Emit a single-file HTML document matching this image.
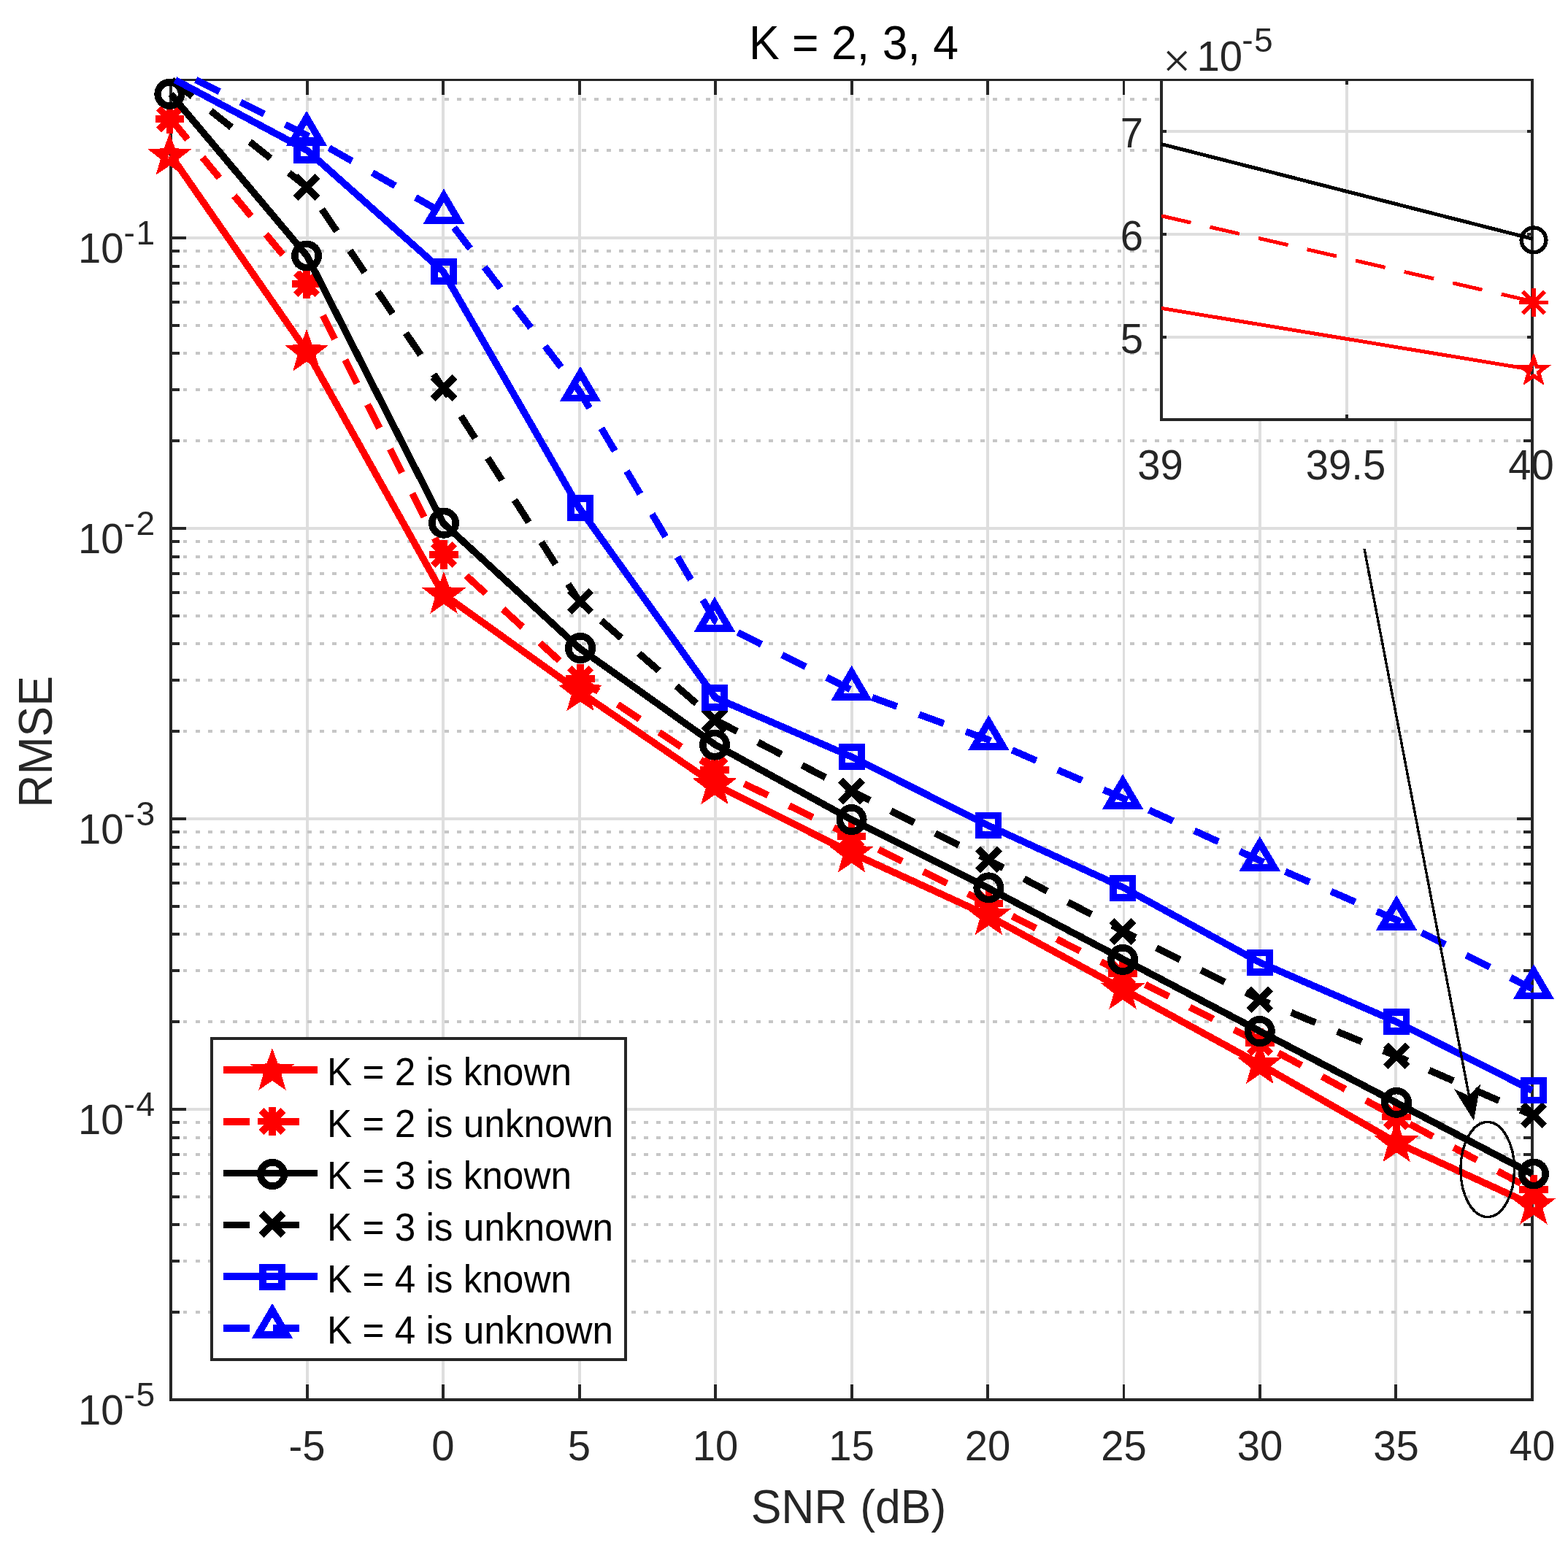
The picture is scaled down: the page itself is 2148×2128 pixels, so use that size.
<!DOCTYPE html>
<html lang="en"><head><meta charset="utf-8"><title>K = 2, 3, 4</title>
<style>html,body{margin:0;padding:0;background:#fff;}svg{display:block;}text{font-family:"Liberation Sans", Arial, Helvetica, sans-serif;}.c{shape-rendering:crispEdges;}</style>
</head><body>
<svg xmlns="http://www.w3.org/2000/svg" width="2148" height="2128" viewBox="0 0 2148 2128">
<rect x="0" y="0" width="2148" height="2128" fill="#ffffff"/>
<path class="c" d="M419 111h4v1805h-4z M605 111h4v1805h-4z M792 111h4v1805h-4z M978 111h4v1805h-4z M1165 111h4v1805h-4z M1351 111h4v1805h-4z M1538 111h3v1805h-3z M1724 111h4v1805h-4z M1910 111h4v1805h-4z M236 324h1861v4h-1861z M236 722h1861v4h-1861z M236 1120h1861v4h-1861z M236 1518h1861v4h-1861z" fill="#dedede"/>
<path class="c" d="M251 204h5v4h-5zM268 204h6v4h-6zM285 204h6v4h-6zM302 204h6v4h-6zM319 204h6v4h-6zM336 204h6v4h-6zM353 204h6v4h-6zM370 204h6v4h-6zM387 204h6v4h-6zM404 204h6v4h-6zM421 204h6v4h-6zM438 204h6v4h-6zM455 204h6v4h-6zM473 204h5v4h-5zM490 204h5v4h-5zM507 204h5v4h-5zM524 204h6v4h-6zM541 204h6v4h-6zM558 204h6v4h-6zM575 204h6v4h-6zM592 204h6v4h-6zM609 204h6v4h-6zM626 204h6v4h-6zM643 204h6v4h-6zM660 204h6v4h-6zM677 204h6v4h-6zM694 204h6v4h-6zM711 204h6v4h-6zM729 204h5v4h-5zM746 204h5v4h-5zM763 204h5v4h-5zM780 204h6v4h-6zM797 204h6v4h-6zM814 204h6v4h-6zM831 204h6v4h-6zM848 204h6v4h-6zM865 204h6v4h-6zM882 204h6v4h-6zM899 204h6v4h-6zM916 204h6v4h-6zM933 204h6v4h-6zM950 204h6v4h-6zM967 204h6v4h-6zM985 204h5v4h-5zM1002 204h5v4h-5zM1019 204h5v4h-5zM1036 204h6v4h-6zM1053 204h6v4h-6zM1070 204h6v4h-6zM1087 204h6v4h-6zM1104 204h6v4h-6zM1121 204h6v4h-6zM1138 204h6v4h-6zM1155 204h6v4h-6zM1172 204h6v4h-6zM1189 204h6v4h-6zM1206 204h6v4h-6zM1223 204h6v4h-6zM1241 204h5v4h-5zM1258 204h5v4h-5zM1275 204h5v4h-5zM1292 204h6v4h-6zM1309 204h6v4h-6zM1326 204h6v4h-6zM1343 204h6v4h-6zM1360 204h6v4h-6zM1377 204h6v4h-6zM1394 204h6v4h-6zM1411 204h6v4h-6zM1428 204h6v4h-6zM1445 204h6v4h-6zM1462 204h6v4h-6zM1479 204h6v4h-6zM1497 204h5v4h-5zM1514 204h5v4h-5zM1531 204h5v4h-5zM1548 204h6v4h-6zM1565 204h6v4h-6zM1582 204h6v4h-6zM1599 204h6v4h-6zM1616 204h6v4h-6zM1633 204h6v4h-6zM1650 204h6v4h-6zM1667 204h6v4h-6zM1684 204h6v4h-6zM1701 204h6v4h-6zM1718 204h6v4h-6zM1735 204h6v4h-6zM1753 204h5v4h-5zM1770 204h5v4h-5zM1787 204h5v4h-5zM1804 204h6v4h-6zM1821 204h6v4h-6zM1838 204h6v4h-6zM1855 204h6v4h-6zM1872 204h6v4h-6zM1889 204h6v4h-6zM1906 204h6v4h-6zM1923 204h6v4h-6zM1940 204h6v4h-6zM1957 204h6v4h-6zM1974 204h6v4h-6zM1991 204h6v4h-6zM2009 204h5v4h-5zM2026 204h5v4h-5zM2043 204h5v4h-5zM2060 204h6v4h-6zM2077 204h6v4h-6zM2094 204h3v4h-3zM251 134h5v4h-5zM268 134h6v4h-6zM285 134h6v4h-6zM302 134h6v4h-6zM319 134h6v4h-6zM336 134h6v4h-6zM353 134h6v4h-6zM370 134h6v4h-6zM387 134h6v4h-6zM404 134h6v4h-6zM421 134h6v4h-6zM438 134h6v4h-6zM455 134h6v4h-6zM473 134h5v4h-5zM490 134h5v4h-5zM507 134h5v4h-5zM524 134h6v4h-6zM541 134h6v4h-6zM558 134h6v4h-6zM575 134h6v4h-6zM592 134h6v4h-6zM609 134h6v4h-6zM626 134h6v4h-6zM643 134h6v4h-6zM660 134h6v4h-6zM677 134h6v4h-6zM694 134h6v4h-6zM711 134h6v4h-6zM729 134h5v4h-5zM746 134h5v4h-5zM763 134h5v4h-5zM780 134h6v4h-6zM797 134h6v4h-6zM814 134h6v4h-6zM831 134h6v4h-6zM848 134h6v4h-6zM865 134h6v4h-6zM882 134h6v4h-6zM899 134h6v4h-6zM916 134h6v4h-6zM933 134h6v4h-6zM950 134h6v4h-6zM967 134h6v4h-6zM985 134h5v4h-5zM1002 134h5v4h-5zM1019 134h5v4h-5zM1036 134h6v4h-6zM1053 134h6v4h-6zM1070 134h6v4h-6zM1087 134h6v4h-6zM1104 134h6v4h-6zM1121 134h6v4h-6zM1138 134h6v4h-6zM1155 134h6v4h-6zM1172 134h6v4h-6zM1189 134h6v4h-6zM1206 134h6v4h-6zM1223 134h6v4h-6zM1241 134h5v4h-5zM1258 134h5v4h-5zM1275 134h5v4h-5zM1292 134h6v4h-6zM1309 134h6v4h-6zM1326 134h6v4h-6zM1343 134h6v4h-6zM1360 134h6v4h-6zM1377 134h6v4h-6zM1394 134h6v4h-6zM1411 134h6v4h-6zM1428 134h6v4h-6zM1445 134h6v4h-6zM1462 134h6v4h-6zM1479 134h6v4h-6zM1497 134h5v4h-5zM1514 134h5v4h-5zM1531 134h5v4h-5zM1548 134h6v4h-6zM1565 134h6v4h-6zM1582 134h6v4h-6zM1599 134h6v4h-6zM1616 134h6v4h-6zM1633 134h6v4h-6zM1650 134h6v4h-6zM1667 134h6v4h-6zM1684 134h6v4h-6zM1701 134h6v4h-6zM1718 134h6v4h-6zM1735 134h6v4h-6zM1753 134h5v4h-5zM1770 134h5v4h-5zM1787 134h5v4h-5zM1804 134h6v4h-6zM1821 134h6v4h-6zM1838 134h6v4h-6zM1855 134h6v4h-6zM1872 134h6v4h-6zM1889 134h6v4h-6zM1906 134h6v4h-6zM1923 134h6v4h-6zM1940 134h6v4h-6zM1957 134h6v4h-6zM1974 134h6v4h-6zM1991 134h6v4h-6zM2009 134h5v4h-5zM2026 134h5v4h-5zM2043 134h5v4h-5zM2060 134h6v4h-6zM2077 134h6v4h-6zM2094 134h3v4h-3zM251 602h5v4h-5zM268 602h6v4h-6zM285 602h6v4h-6zM302 602h6v4h-6zM319 602h6v4h-6zM336 602h6v4h-6zM353 602h6v4h-6zM370 602h6v4h-6zM387 602h6v4h-6zM404 602h6v4h-6zM421 602h6v4h-6zM438 602h6v4h-6zM455 602h6v4h-6zM473 602h5v4h-5zM490 602h5v4h-5zM507 602h5v4h-5zM524 602h6v4h-6zM541 602h6v4h-6zM558 602h6v4h-6zM575 602h6v4h-6zM592 602h6v4h-6zM609 602h6v4h-6zM626 602h6v4h-6zM643 602h6v4h-6zM660 602h6v4h-6zM677 602h6v4h-6zM694 602h6v4h-6zM711 602h6v4h-6zM729 602h5v4h-5zM746 602h5v4h-5zM763 602h5v4h-5zM780 602h6v4h-6zM797 602h6v4h-6zM814 602h6v4h-6zM831 602h6v4h-6zM848 602h6v4h-6zM865 602h6v4h-6zM882 602h6v4h-6zM899 602h6v4h-6zM916 602h6v4h-6zM933 602h6v4h-6zM950 602h6v4h-6zM967 602h6v4h-6zM985 602h5v4h-5zM1002 602h5v4h-5zM1019 602h5v4h-5zM1036 602h6v4h-6zM1053 602h6v4h-6zM1070 602h6v4h-6zM1087 602h6v4h-6zM1104 602h6v4h-6zM1121 602h6v4h-6zM1138 602h6v4h-6zM1155 602h6v4h-6zM1172 602h6v4h-6zM1189 602h6v4h-6zM1206 602h6v4h-6zM1223 602h6v4h-6zM1241 602h5v4h-5zM1258 602h5v4h-5zM1275 602h5v4h-5zM1292 602h6v4h-6zM1309 602h6v4h-6zM1326 602h6v4h-6zM1343 602h6v4h-6zM1360 602h6v4h-6zM1377 602h6v4h-6zM1394 602h6v4h-6zM1411 602h6v4h-6zM1428 602h6v4h-6zM1445 602h6v4h-6zM1462 602h6v4h-6zM1479 602h6v4h-6zM1497 602h5v4h-5zM1514 602h5v4h-5zM1531 602h5v4h-5zM1548 602h6v4h-6zM1565 602h6v4h-6zM1582 602h6v4h-6zM1599 602h6v4h-6zM1616 602h6v4h-6zM1633 602h6v4h-6zM1650 602h6v4h-6zM1667 602h6v4h-6zM1684 602h6v4h-6zM1701 602h6v4h-6zM1718 602h6v4h-6zM1735 602h6v4h-6zM1753 602h5v4h-5zM1770 602h5v4h-5zM1787 602h5v4h-5zM1804 602h6v4h-6zM1821 602h6v4h-6zM1838 602h6v4h-6zM1855 602h6v4h-6zM1872 602h6v4h-6zM1889 602h6v4h-6zM1906 602h6v4h-6zM1923 602h6v4h-6zM1940 602h6v4h-6zM1957 602h6v4h-6zM1974 602h6v4h-6zM1991 602h6v4h-6zM2009 602h5v4h-5zM2026 602h5v4h-5zM2043 602h5v4h-5zM2060 602h6v4h-6zM2077 602h6v4h-6zM2094 602h3v4h-3zM251 532h5v4h-5zM268 532h6v4h-6zM285 532h6v4h-6zM302 532h6v4h-6zM319 532h6v4h-6zM336 532h6v4h-6zM353 532h6v4h-6zM370 532h6v4h-6zM387 532h6v4h-6zM404 532h6v4h-6zM421 532h6v4h-6zM438 532h6v4h-6zM455 532h6v4h-6zM473 532h5v4h-5zM490 532h5v4h-5zM507 532h5v4h-5zM524 532h6v4h-6zM541 532h6v4h-6zM558 532h6v4h-6zM575 532h6v4h-6zM592 532h6v4h-6zM609 532h6v4h-6zM626 532h6v4h-6zM643 532h6v4h-6zM660 532h6v4h-6zM677 532h6v4h-6zM694 532h6v4h-6zM711 532h6v4h-6zM729 532h5v4h-5zM746 532h5v4h-5zM763 532h5v4h-5zM780 532h6v4h-6zM797 532h6v4h-6zM814 532h6v4h-6zM831 532h6v4h-6zM848 532h6v4h-6zM865 532h6v4h-6zM882 532h6v4h-6zM899 532h6v4h-6zM916 532h6v4h-6zM933 532h6v4h-6zM950 532h6v4h-6zM967 532h6v4h-6zM985 532h5v4h-5zM1002 532h5v4h-5zM1019 532h5v4h-5zM1036 532h6v4h-6zM1053 532h6v4h-6zM1070 532h6v4h-6zM1087 532h6v4h-6zM1104 532h6v4h-6zM1121 532h6v4h-6zM1138 532h6v4h-6zM1155 532h6v4h-6zM1172 532h6v4h-6zM1189 532h6v4h-6zM1206 532h6v4h-6zM1223 532h6v4h-6zM1241 532h5v4h-5zM1258 532h5v4h-5zM1275 532h5v4h-5zM1292 532h6v4h-6zM1309 532h6v4h-6zM1326 532h6v4h-6zM1343 532h6v4h-6zM1360 532h6v4h-6zM1377 532h6v4h-6zM1394 532h6v4h-6zM1411 532h6v4h-6zM1428 532h6v4h-6zM1445 532h6v4h-6zM1462 532h6v4h-6zM1479 532h6v4h-6zM1497 532h5v4h-5zM1514 532h5v4h-5zM1531 532h5v4h-5zM1548 532h6v4h-6zM1565 532h6v4h-6zM1582 532h6v4h-6zM1599 532h6v4h-6zM1616 532h6v4h-6zM1633 532h6v4h-6zM1650 532h6v4h-6zM1667 532h6v4h-6zM1684 532h6v4h-6zM1701 532h6v4h-6zM1718 532h6v4h-6zM1735 532h6v4h-6zM1753 532h5v4h-5zM1770 532h5v4h-5zM1787 532h5v4h-5zM1804 532h6v4h-6zM1821 532h6v4h-6zM1838 532h6v4h-6zM1855 532h6v4h-6zM1872 532h6v4h-6zM1889 532h6v4h-6zM1906 532h6v4h-6zM1923 532h6v4h-6zM1940 532h6v4h-6zM1957 532h6v4h-6zM1974 532h6v4h-6zM1991 532h6v4h-6zM2009 532h5v4h-5zM2026 532h5v4h-5zM2043 532h5v4h-5zM2060 532h6v4h-6zM2077 532h6v4h-6zM2094 532h3v4h-3zM251 482h5v4h-5zM268 482h6v4h-6zM285 482h6v4h-6zM302 482h6v4h-6zM319 482h6v4h-6zM336 482h6v4h-6zM353 482h6v4h-6zM370 482h6v4h-6zM387 482h6v4h-6zM404 482h6v4h-6zM421 482h6v4h-6zM438 482h6v4h-6zM455 482h6v4h-6zM473 482h5v4h-5zM490 482h5v4h-5zM507 482h5v4h-5zM524 482h6v4h-6zM541 482h6v4h-6zM558 482h6v4h-6zM575 482h6v4h-6zM592 482h6v4h-6zM609 482h6v4h-6zM626 482h6v4h-6zM643 482h6v4h-6zM660 482h6v4h-6zM677 482h6v4h-6zM694 482h6v4h-6zM711 482h6v4h-6zM729 482h5v4h-5zM746 482h5v4h-5zM763 482h5v4h-5zM780 482h6v4h-6zM797 482h6v4h-6zM814 482h6v4h-6zM831 482h6v4h-6zM848 482h6v4h-6zM865 482h6v4h-6zM882 482h6v4h-6zM899 482h6v4h-6zM916 482h6v4h-6zM933 482h6v4h-6zM950 482h6v4h-6zM967 482h6v4h-6zM985 482h5v4h-5zM1002 482h5v4h-5zM1019 482h5v4h-5zM1036 482h6v4h-6zM1053 482h6v4h-6zM1070 482h6v4h-6zM1087 482h6v4h-6zM1104 482h6v4h-6zM1121 482h6v4h-6zM1138 482h6v4h-6zM1155 482h6v4h-6zM1172 482h6v4h-6zM1189 482h6v4h-6zM1206 482h6v4h-6zM1223 482h6v4h-6zM1241 482h5v4h-5zM1258 482h5v4h-5zM1275 482h5v4h-5zM1292 482h6v4h-6zM1309 482h6v4h-6zM1326 482h6v4h-6zM1343 482h6v4h-6zM1360 482h6v4h-6zM1377 482h6v4h-6zM1394 482h6v4h-6zM1411 482h6v4h-6zM1428 482h6v4h-6zM1445 482h6v4h-6zM1462 482h6v4h-6zM1479 482h6v4h-6zM1497 482h5v4h-5zM1514 482h5v4h-5zM1531 482h5v4h-5zM1548 482h6v4h-6zM1565 482h6v4h-6zM1582 482h6v4h-6zM1599 482h6v4h-6zM1616 482h6v4h-6zM1633 482h6v4h-6zM1650 482h6v4h-6zM1667 482h6v4h-6zM1684 482h6v4h-6zM1701 482h6v4h-6zM1718 482h6v4h-6zM1735 482h6v4h-6zM1753 482h5v4h-5zM1770 482h5v4h-5zM1787 482h5v4h-5zM1804 482h6v4h-6zM1821 482h6v4h-6zM1838 482h6v4h-6zM1855 482h6v4h-6zM1872 482h6v4h-6zM1889 482h6v4h-6zM1906 482h6v4h-6zM1923 482h6v4h-6zM1940 482h6v4h-6zM1957 482h6v4h-6zM1974 482h6v4h-6zM1991 482h6v4h-6zM2009 482h5v4h-5zM2026 482h5v4h-5zM2043 482h5v4h-5zM2060 482h6v4h-6zM2077 482h6v4h-6zM2094 482h3v4h-3zM251 444h5v4h-5zM268 444h6v4h-6zM285 444h6v4h-6zM302 444h6v4h-6zM319 444h6v4h-6zM336 444h6v4h-6zM353 444h6v4h-6zM370 444h6v4h-6zM387 444h6v4h-6zM404 444h6v4h-6zM421 444h6v4h-6zM438 444h6v4h-6zM455 444h6v4h-6zM473 444h5v4h-5zM490 444h5v4h-5zM507 444h5v4h-5zM524 444h6v4h-6zM541 444h6v4h-6zM558 444h6v4h-6zM575 444h6v4h-6zM592 444h6v4h-6zM609 444h6v4h-6zM626 444h6v4h-6zM643 444h6v4h-6zM660 444h6v4h-6zM677 444h6v4h-6zM694 444h6v4h-6zM711 444h6v4h-6zM729 444h5v4h-5zM746 444h5v4h-5zM763 444h5v4h-5zM780 444h6v4h-6zM797 444h6v4h-6zM814 444h6v4h-6zM831 444h6v4h-6zM848 444h6v4h-6zM865 444h6v4h-6zM882 444h6v4h-6zM899 444h6v4h-6zM916 444h6v4h-6zM933 444h6v4h-6zM950 444h6v4h-6zM967 444h6v4h-6zM985 444h5v4h-5zM1002 444h5v4h-5zM1019 444h5v4h-5zM1036 444h6v4h-6zM1053 444h6v4h-6zM1070 444h6v4h-6zM1087 444h6v4h-6zM1104 444h6v4h-6zM1121 444h6v4h-6zM1138 444h6v4h-6zM1155 444h6v4h-6zM1172 444h6v4h-6zM1189 444h6v4h-6zM1206 444h6v4h-6zM1223 444h6v4h-6zM1241 444h5v4h-5zM1258 444h5v4h-5zM1275 444h5v4h-5zM1292 444h6v4h-6zM1309 444h6v4h-6zM1326 444h6v4h-6zM1343 444h6v4h-6zM1360 444h6v4h-6zM1377 444h6v4h-6zM1394 444h6v4h-6zM1411 444h6v4h-6zM1428 444h6v4h-6zM1445 444h6v4h-6zM1462 444h6v4h-6zM1479 444h6v4h-6zM1497 444h5v4h-5zM1514 444h5v4h-5zM1531 444h5v4h-5zM1548 444h6v4h-6zM1565 444h6v4h-6zM1582 444h6v4h-6zM1599 444h6v4h-6zM1616 444h6v4h-6zM1633 444h6v4h-6zM1650 444h6v4h-6zM1667 444h6v4h-6zM1684 444h6v4h-6zM1701 444h6v4h-6zM1718 444h6v4h-6zM1735 444h6v4h-6zM1753 444h5v4h-5zM1770 444h5v4h-5zM1787 444h5v4h-5zM1804 444h6v4h-6zM1821 444h6v4h-6zM1838 444h6v4h-6zM1855 444h6v4h-6zM1872 444h6v4h-6zM1889 444h6v4h-6zM1906 444h6v4h-6zM1923 444h6v4h-6zM1940 444h6v4h-6zM1957 444h6v4h-6zM1974 444h6v4h-6zM1991 444h6v4h-6zM2009 444h5v4h-5zM2026 444h5v4h-5zM2043 444h5v4h-5zM2060 444h6v4h-6zM2077 444h6v4h-6zM2094 444h3v4h-3zM251 412h5v4h-5zM268 412h6v4h-6zM285 412h6v4h-6zM302 412h6v4h-6zM319 412h6v4h-6zM336 412h6v4h-6zM353 412h6v4h-6zM370 412h6v4h-6zM387 412h6v4h-6zM404 412h6v4h-6zM421 412h6v4h-6zM438 412h6v4h-6zM455 412h6v4h-6zM473 412h5v4h-5zM490 412h5v4h-5zM507 412h5v4h-5zM524 412h6v4h-6zM541 412h6v4h-6zM558 412h6v4h-6zM575 412h6v4h-6zM592 412h6v4h-6zM609 412h6v4h-6zM626 412h6v4h-6zM643 412h6v4h-6zM660 412h6v4h-6zM677 412h6v4h-6zM694 412h6v4h-6zM711 412h6v4h-6zM729 412h5v4h-5zM746 412h5v4h-5zM763 412h5v4h-5zM780 412h6v4h-6zM797 412h6v4h-6zM814 412h6v4h-6zM831 412h6v4h-6zM848 412h6v4h-6zM865 412h6v4h-6zM882 412h6v4h-6zM899 412h6v4h-6zM916 412h6v4h-6zM933 412h6v4h-6zM950 412h6v4h-6zM967 412h6v4h-6zM985 412h5v4h-5zM1002 412h5v4h-5zM1019 412h5v4h-5zM1036 412h6v4h-6zM1053 412h6v4h-6zM1070 412h6v4h-6zM1087 412h6v4h-6zM1104 412h6v4h-6zM1121 412h6v4h-6zM1138 412h6v4h-6zM1155 412h6v4h-6zM1172 412h6v4h-6zM1189 412h6v4h-6zM1206 412h6v4h-6zM1223 412h6v4h-6zM1241 412h5v4h-5zM1258 412h5v4h-5zM1275 412h5v4h-5zM1292 412h6v4h-6zM1309 412h6v4h-6zM1326 412h6v4h-6zM1343 412h6v4h-6zM1360 412h6v4h-6zM1377 412h6v4h-6zM1394 412h6v4h-6zM1411 412h6v4h-6zM1428 412h6v4h-6zM1445 412h6v4h-6zM1462 412h6v4h-6zM1479 412h6v4h-6zM1497 412h5v4h-5zM1514 412h5v4h-5zM1531 412h5v4h-5zM1548 412h6v4h-6zM1565 412h6v4h-6zM1582 412h6v4h-6zM1599 412h6v4h-6zM1616 412h6v4h-6zM1633 412h6v4h-6zM1650 412h6v4h-6zM1667 412h6v4h-6zM1684 412h6v4h-6zM1701 412h6v4h-6zM1718 412h6v4h-6zM1735 412h6v4h-6zM1753 412h5v4h-5zM1770 412h5v4h-5zM1787 412h5v4h-5zM1804 412h6v4h-6zM1821 412h6v4h-6zM1838 412h6v4h-6zM1855 412h6v4h-6zM1872 412h6v4h-6zM1889 412h6v4h-6zM1906 412h6v4h-6zM1923 412h6v4h-6zM1940 412h6v4h-6zM1957 412h6v4h-6zM1974 412h6v4h-6zM1991 412h6v4h-6zM2009 412h5v4h-5zM2026 412h5v4h-5zM2043 412h5v4h-5zM2060 412h6v4h-6zM2077 412h6v4h-6zM2094 412h3v4h-3zM251 386h5v4h-5zM268 386h6v4h-6zM285 386h6v4h-6zM302 386h6v4h-6zM319 386h6v4h-6zM336 386h6v4h-6zM353 386h6v4h-6zM370 386h6v4h-6zM387 386h6v4h-6zM404 386h6v4h-6zM421 386h6v4h-6zM438 386h6v4h-6zM455 386h6v4h-6zM473 386h5v4h-5zM490 386h5v4h-5zM507 386h5v4h-5zM524 386h6v4h-6zM541 386h6v4h-6zM558 386h6v4h-6zM575 386h6v4h-6zM592 386h6v4h-6zM609 386h6v4h-6zM626 386h6v4h-6zM643 386h6v4h-6zM660 386h6v4h-6zM677 386h6v4h-6zM694 386h6v4h-6zM711 386h6v4h-6zM729 386h5v4h-5zM746 386h5v4h-5zM763 386h5v4h-5zM780 386h6v4h-6zM797 386h6v4h-6zM814 386h6v4h-6zM831 386h6v4h-6zM848 386h6v4h-6zM865 386h6v4h-6zM882 386h6v4h-6zM899 386h6v4h-6zM916 386h6v4h-6zM933 386h6v4h-6zM950 386h6v4h-6zM967 386h6v4h-6zM985 386h5v4h-5zM1002 386h5v4h-5zM1019 386h5v4h-5zM1036 386h6v4h-6zM1053 386h6v4h-6zM1070 386h6v4h-6zM1087 386h6v4h-6zM1104 386h6v4h-6zM1121 386h6v4h-6zM1138 386h6v4h-6zM1155 386h6v4h-6zM1172 386h6v4h-6zM1189 386h6v4h-6zM1206 386h6v4h-6zM1223 386h6v4h-6zM1241 386h5v4h-5zM1258 386h5v4h-5zM1275 386h5v4h-5zM1292 386h6v4h-6zM1309 386h6v4h-6zM1326 386h6v4h-6zM1343 386h6v4h-6zM1360 386h6v4h-6zM1377 386h6v4h-6zM1394 386h6v4h-6zM1411 386h6v4h-6zM1428 386h6v4h-6zM1445 386h6v4h-6zM1462 386h6v4h-6zM1479 386h6v4h-6zM1497 386h5v4h-5zM1514 386h5v4h-5zM1531 386h5v4h-5zM1548 386h6v4h-6zM1565 386h6v4h-6zM1582 386h6v4h-6zM1599 386h6v4h-6zM1616 386h6v4h-6zM1633 386h6v4h-6zM1650 386h6v4h-6zM1667 386h6v4h-6zM1684 386h6v4h-6zM1701 386h6v4h-6zM1718 386h6v4h-6zM1735 386h6v4h-6zM1753 386h5v4h-5zM1770 386h5v4h-5zM1787 386h5v4h-5zM1804 386h6v4h-6zM1821 386h6v4h-6zM1838 386h6v4h-6zM1855 386h6v4h-6zM1872 386h6v4h-6zM1889 386h6v4h-6zM1906 386h6v4h-6zM1923 386h6v4h-6zM1940 386h6v4h-6zM1957 386h6v4h-6zM1974 386h6v4h-6zM1991 386h6v4h-6zM2009 386h5v4h-5zM2026 386h5v4h-5zM2043 386h5v4h-5zM2060 386h6v4h-6zM2077 386h6v4h-6zM2094 386h3v4h-3zM251 363h5v4h-5zM268 363h6v4h-6zM285 363h6v4h-6zM302 363h6v4h-6zM319 363h6v4h-6zM336 363h6v4h-6zM353 363h6v4h-6zM370 363h6v4h-6zM387 363h6v4h-6zM404 363h6v4h-6zM421 363h6v4h-6zM438 363h6v4h-6zM455 363h6v4h-6zM473 363h5v4h-5zM490 363h5v4h-5zM507 363h5v4h-5zM524 363h6v4h-6zM541 363h6v4h-6zM558 363h6v4h-6zM575 363h6v4h-6zM592 363h6v4h-6zM609 363h6v4h-6zM626 363h6v4h-6zM643 363h6v4h-6zM660 363h6v4h-6zM677 363h6v4h-6zM694 363h6v4h-6zM711 363h6v4h-6zM729 363h5v4h-5zM746 363h5v4h-5zM763 363h5v4h-5zM780 363h6v4h-6zM797 363h6v4h-6zM814 363h6v4h-6zM831 363h6v4h-6zM848 363h6v4h-6zM865 363h6v4h-6zM882 363h6v4h-6zM899 363h6v4h-6zM916 363h6v4h-6zM933 363h6v4h-6zM950 363h6v4h-6zM967 363h6v4h-6zM985 363h5v4h-5zM1002 363h5v4h-5zM1019 363h5v4h-5zM1036 363h6v4h-6zM1053 363h6v4h-6zM1070 363h6v4h-6zM1087 363h6v4h-6zM1104 363h6v4h-6zM1121 363h6v4h-6zM1138 363h6v4h-6zM1155 363h6v4h-6zM1172 363h6v4h-6zM1189 363h6v4h-6zM1206 363h6v4h-6zM1223 363h6v4h-6zM1241 363h5v4h-5zM1258 363h5v4h-5zM1275 363h5v4h-5zM1292 363h6v4h-6zM1309 363h6v4h-6zM1326 363h6v4h-6zM1343 363h6v4h-6zM1360 363h6v4h-6zM1377 363h6v4h-6zM1394 363h6v4h-6zM1411 363h6v4h-6zM1428 363h6v4h-6zM1445 363h6v4h-6zM1462 363h6v4h-6zM1479 363h6v4h-6zM1497 363h5v4h-5zM1514 363h5v4h-5zM1531 363h5v4h-5zM1548 363h6v4h-6zM1565 363h6v4h-6zM1582 363h6v4h-6zM1599 363h6v4h-6zM1616 363h6v4h-6zM1633 363h6v4h-6zM1650 363h6v4h-6zM1667 363h6v4h-6zM1684 363h6v4h-6zM1701 363h6v4h-6zM1718 363h6v4h-6zM1735 363h6v4h-6zM1753 363h5v4h-5zM1770 363h5v4h-5zM1787 363h5v4h-5zM1804 363h6v4h-6zM1821 363h6v4h-6zM1838 363h6v4h-6zM1855 363h6v4h-6zM1872 363h6v4h-6zM1889 363h6v4h-6zM1906 363h6v4h-6zM1923 363h6v4h-6zM1940 363h6v4h-6zM1957 363h6v4h-6zM1974 363h6v4h-6zM1991 363h6v4h-6zM2009 363h5v4h-5zM2026 363h5v4h-5zM2043 363h5v4h-5zM2060 363h6v4h-6zM2077 363h6v4h-6zM2094 363h3v4h-3zM251 342h5v4h-5zM268 342h6v4h-6zM285 342h6v4h-6zM302 342h6v4h-6zM319 342h6v4h-6zM336 342h6v4h-6zM353 342h6v4h-6zM370 342h6v4h-6zM387 342h6v4h-6zM404 342h6v4h-6zM421 342h6v4h-6zM438 342h6v4h-6zM455 342h6v4h-6zM473 342h5v4h-5zM490 342h5v4h-5zM507 342h5v4h-5zM524 342h6v4h-6zM541 342h6v4h-6zM558 342h6v4h-6zM575 342h6v4h-6zM592 342h6v4h-6zM609 342h6v4h-6zM626 342h6v4h-6zM643 342h6v4h-6zM660 342h6v4h-6zM677 342h6v4h-6zM694 342h6v4h-6zM711 342h6v4h-6zM729 342h5v4h-5zM746 342h5v4h-5zM763 342h5v4h-5zM780 342h6v4h-6zM797 342h6v4h-6zM814 342h6v4h-6zM831 342h6v4h-6zM848 342h6v4h-6zM865 342h6v4h-6zM882 342h6v4h-6zM899 342h6v4h-6zM916 342h6v4h-6zM933 342h6v4h-6zM950 342h6v4h-6zM967 342h6v4h-6zM985 342h5v4h-5zM1002 342h5v4h-5zM1019 342h5v4h-5zM1036 342h6v4h-6zM1053 342h6v4h-6zM1070 342h6v4h-6zM1087 342h6v4h-6zM1104 342h6v4h-6zM1121 342h6v4h-6zM1138 342h6v4h-6zM1155 342h6v4h-6zM1172 342h6v4h-6zM1189 342h6v4h-6zM1206 342h6v4h-6zM1223 342h6v4h-6zM1241 342h5v4h-5zM1258 342h5v4h-5zM1275 342h5v4h-5zM1292 342h6v4h-6zM1309 342h6v4h-6zM1326 342h6v4h-6zM1343 342h6v4h-6zM1360 342h6v4h-6zM1377 342h6v4h-6zM1394 342h6v4h-6zM1411 342h6v4h-6zM1428 342h6v4h-6zM1445 342h6v4h-6zM1462 342h6v4h-6zM1479 342h6v4h-6zM1497 342h5v4h-5zM1514 342h5v4h-5zM1531 342h5v4h-5zM1548 342h6v4h-6zM1565 342h6v4h-6zM1582 342h6v4h-6zM1599 342h6v4h-6zM1616 342h6v4h-6zM1633 342h6v4h-6zM1650 342h6v4h-6zM1667 342h6v4h-6zM1684 342h6v4h-6zM1701 342h6v4h-6zM1718 342h6v4h-6zM1735 342h6v4h-6zM1753 342h5v4h-5zM1770 342h5v4h-5zM1787 342h5v4h-5zM1804 342h6v4h-6zM1821 342h6v4h-6zM1838 342h6v4h-6zM1855 342h6v4h-6zM1872 342h6v4h-6zM1889 342h6v4h-6zM1906 342h6v4h-6zM1923 342h6v4h-6zM1940 342h6v4h-6zM1957 342h6v4h-6zM1974 342h6v4h-6zM1991 342h6v4h-6zM2009 342h5v4h-5zM2026 342h5v4h-5zM2043 342h5v4h-5zM2060 342h6v4h-6zM2077 342h6v4h-6zM2094 342h3v4h-3zM251 1000h5v4h-5zM268 1000h6v4h-6zM285 1000h6v4h-6zM302 1000h6v4h-6zM319 1000h6v4h-6zM336 1000h6v4h-6zM353 1000h6v4h-6zM370 1000h6v4h-6zM387 1000h6v4h-6zM404 1000h6v4h-6zM421 1000h6v4h-6zM438 1000h6v4h-6zM455 1000h6v4h-6zM473 1000h5v4h-5zM490 1000h5v4h-5zM507 1000h5v4h-5zM524 1000h6v4h-6zM541 1000h6v4h-6zM558 1000h6v4h-6zM575 1000h6v4h-6zM592 1000h6v4h-6zM609 1000h6v4h-6zM626 1000h6v4h-6zM643 1000h6v4h-6zM660 1000h6v4h-6zM677 1000h6v4h-6zM694 1000h6v4h-6zM711 1000h6v4h-6zM729 1000h5v4h-5zM746 1000h5v4h-5zM763 1000h5v4h-5zM780 1000h6v4h-6zM797 1000h6v4h-6zM814 1000h6v4h-6zM831 1000h6v4h-6zM848 1000h6v4h-6zM865 1000h6v4h-6zM882 1000h6v4h-6zM899 1000h6v4h-6zM916 1000h6v4h-6zM933 1000h6v4h-6zM950 1000h6v4h-6zM967 1000h6v4h-6zM985 1000h5v4h-5zM1002 1000h5v4h-5zM1019 1000h5v4h-5zM1036 1000h6v4h-6zM1053 1000h6v4h-6zM1070 1000h6v4h-6zM1087 1000h6v4h-6zM1104 1000h6v4h-6zM1121 1000h6v4h-6zM1138 1000h6v4h-6zM1155 1000h6v4h-6zM1172 1000h6v4h-6zM1189 1000h6v4h-6zM1206 1000h6v4h-6zM1223 1000h6v4h-6zM1241 1000h5v4h-5zM1258 1000h5v4h-5zM1275 1000h5v4h-5zM1292 1000h6v4h-6zM1309 1000h6v4h-6zM1326 1000h6v4h-6zM1343 1000h6v4h-6zM1360 1000h6v4h-6zM1377 1000h6v4h-6zM1394 1000h6v4h-6zM1411 1000h6v4h-6zM1428 1000h6v4h-6zM1445 1000h6v4h-6zM1462 1000h6v4h-6zM1479 1000h6v4h-6zM1497 1000h5v4h-5zM1514 1000h5v4h-5zM1531 1000h5v4h-5zM1548 1000h6v4h-6zM1565 1000h6v4h-6zM1582 1000h6v4h-6zM1599 1000h6v4h-6zM1616 1000h6v4h-6zM1633 1000h6v4h-6zM1650 1000h6v4h-6zM1667 1000h6v4h-6zM1684 1000h6v4h-6zM1701 1000h6v4h-6zM1718 1000h6v4h-6zM1735 1000h6v4h-6zM1753 1000h5v4h-5zM1770 1000h5v4h-5zM1787 1000h5v4h-5zM1804 1000h6v4h-6zM1821 1000h6v4h-6zM1838 1000h6v4h-6zM1855 1000h6v4h-6zM1872 1000h6v4h-6zM1889 1000h6v4h-6zM1906 1000h6v4h-6zM1923 1000h6v4h-6zM1940 1000h6v4h-6zM1957 1000h6v4h-6zM1974 1000h6v4h-6zM1991 1000h6v4h-6zM2009 1000h5v4h-5zM2026 1000h5v4h-5zM2043 1000h5v4h-5zM2060 1000h6v4h-6zM2077 1000h6v4h-6zM2094 1000h3v4h-3zM251 930h5v4h-5zM268 930h6v4h-6zM285 930h6v4h-6zM302 930h6v4h-6zM319 930h6v4h-6zM336 930h6v4h-6zM353 930h6v4h-6zM370 930h6v4h-6zM387 930h6v4h-6zM404 930h6v4h-6zM421 930h6v4h-6zM438 930h6v4h-6zM455 930h6v4h-6zM473 930h5v4h-5zM490 930h5v4h-5zM507 930h5v4h-5zM524 930h6v4h-6zM541 930h6v4h-6zM558 930h6v4h-6zM575 930h6v4h-6zM592 930h6v4h-6zM609 930h6v4h-6zM626 930h6v4h-6zM643 930h6v4h-6zM660 930h6v4h-6zM677 930h6v4h-6zM694 930h6v4h-6zM711 930h6v4h-6zM729 930h5v4h-5zM746 930h5v4h-5zM763 930h5v4h-5zM780 930h6v4h-6zM797 930h6v4h-6zM814 930h6v4h-6zM831 930h6v4h-6zM848 930h6v4h-6zM865 930h6v4h-6zM882 930h6v4h-6zM899 930h6v4h-6zM916 930h6v4h-6zM933 930h6v4h-6zM950 930h6v4h-6zM967 930h6v4h-6zM985 930h5v4h-5zM1002 930h5v4h-5zM1019 930h5v4h-5zM1036 930h6v4h-6zM1053 930h6v4h-6zM1070 930h6v4h-6zM1087 930h6v4h-6zM1104 930h6v4h-6zM1121 930h6v4h-6zM1138 930h6v4h-6zM1155 930h6v4h-6zM1172 930h6v4h-6zM1189 930h6v4h-6zM1206 930h6v4h-6zM1223 930h6v4h-6zM1241 930h5v4h-5zM1258 930h5v4h-5zM1275 930h5v4h-5zM1292 930h6v4h-6zM1309 930h6v4h-6zM1326 930h6v4h-6zM1343 930h6v4h-6zM1360 930h6v4h-6zM1377 930h6v4h-6zM1394 930h6v4h-6zM1411 930h6v4h-6zM1428 930h6v4h-6zM1445 930h6v4h-6zM1462 930h6v4h-6zM1479 930h6v4h-6zM1497 930h5v4h-5zM1514 930h5v4h-5zM1531 930h5v4h-5zM1548 930h6v4h-6zM1565 930h6v4h-6zM1582 930h6v4h-6zM1599 930h6v4h-6zM1616 930h6v4h-6zM1633 930h6v4h-6zM1650 930h6v4h-6zM1667 930h6v4h-6zM1684 930h6v4h-6zM1701 930h6v4h-6zM1718 930h6v4h-6zM1735 930h6v4h-6zM1753 930h5v4h-5zM1770 930h5v4h-5zM1787 930h5v4h-5zM1804 930h6v4h-6zM1821 930h6v4h-6zM1838 930h6v4h-6zM1855 930h6v4h-6zM1872 930h6v4h-6zM1889 930h6v4h-6zM1906 930h6v4h-6zM1923 930h6v4h-6zM1940 930h6v4h-6zM1957 930h6v4h-6zM1974 930h6v4h-6zM1991 930h6v4h-6zM2009 930h5v4h-5zM2026 930h5v4h-5zM2043 930h5v4h-5zM2060 930h6v4h-6zM2077 930h6v4h-6zM2094 930h3v4h-3zM251 880h5v4h-5zM268 880h6v4h-6zM285 880h6v4h-6zM302 880h6v4h-6zM319 880h6v4h-6zM336 880h6v4h-6zM353 880h6v4h-6zM370 880h6v4h-6zM387 880h6v4h-6zM404 880h6v4h-6zM421 880h6v4h-6zM438 880h6v4h-6zM455 880h6v4h-6zM473 880h5v4h-5zM490 880h5v4h-5zM507 880h5v4h-5zM524 880h6v4h-6zM541 880h6v4h-6zM558 880h6v4h-6zM575 880h6v4h-6zM592 880h6v4h-6zM609 880h6v4h-6zM626 880h6v4h-6zM643 880h6v4h-6zM660 880h6v4h-6zM677 880h6v4h-6zM694 880h6v4h-6zM711 880h6v4h-6zM729 880h5v4h-5zM746 880h5v4h-5zM763 880h5v4h-5zM780 880h6v4h-6zM797 880h6v4h-6zM814 880h6v4h-6zM831 880h6v4h-6zM848 880h6v4h-6zM865 880h6v4h-6zM882 880h6v4h-6zM899 880h6v4h-6zM916 880h6v4h-6zM933 880h6v4h-6zM950 880h6v4h-6zM967 880h6v4h-6zM985 880h5v4h-5zM1002 880h5v4h-5zM1019 880h5v4h-5zM1036 880h6v4h-6zM1053 880h6v4h-6zM1070 880h6v4h-6zM1087 880h6v4h-6zM1104 880h6v4h-6zM1121 880h6v4h-6zM1138 880h6v4h-6zM1155 880h6v4h-6zM1172 880h6v4h-6zM1189 880h6v4h-6zM1206 880h6v4h-6zM1223 880h6v4h-6zM1241 880h5v4h-5zM1258 880h5v4h-5zM1275 880h5v4h-5zM1292 880h6v4h-6zM1309 880h6v4h-6zM1326 880h6v4h-6zM1343 880h6v4h-6zM1360 880h6v4h-6zM1377 880h6v4h-6zM1394 880h6v4h-6zM1411 880h6v4h-6zM1428 880h6v4h-6zM1445 880h6v4h-6zM1462 880h6v4h-6zM1479 880h6v4h-6zM1497 880h5v4h-5zM1514 880h5v4h-5zM1531 880h5v4h-5zM1548 880h6v4h-6zM1565 880h6v4h-6zM1582 880h6v4h-6zM1599 880h6v4h-6zM1616 880h6v4h-6zM1633 880h6v4h-6zM1650 880h6v4h-6zM1667 880h6v4h-6zM1684 880h6v4h-6zM1701 880h6v4h-6zM1718 880h6v4h-6zM1735 880h6v4h-6zM1753 880h5v4h-5zM1770 880h5v4h-5zM1787 880h5v4h-5zM1804 880h6v4h-6zM1821 880h6v4h-6zM1838 880h6v4h-6zM1855 880h6v4h-6zM1872 880h6v4h-6zM1889 880h6v4h-6zM1906 880h6v4h-6zM1923 880h6v4h-6zM1940 880h6v4h-6zM1957 880h6v4h-6zM1974 880h6v4h-6zM1991 880h6v4h-6zM2009 880h5v4h-5zM2026 880h5v4h-5zM2043 880h5v4h-5zM2060 880h6v4h-6zM2077 880h6v4h-6zM2094 880h3v4h-3zM251 842h5v4h-5zM268 842h6v4h-6zM285 842h6v4h-6zM302 842h6v4h-6zM319 842h6v4h-6zM336 842h6v4h-6zM353 842h6v4h-6zM370 842h6v4h-6zM387 842h6v4h-6zM404 842h6v4h-6zM421 842h6v4h-6zM438 842h6v4h-6zM455 842h6v4h-6zM473 842h5v4h-5zM490 842h5v4h-5zM507 842h5v4h-5zM524 842h6v4h-6zM541 842h6v4h-6zM558 842h6v4h-6zM575 842h6v4h-6zM592 842h6v4h-6zM609 842h6v4h-6zM626 842h6v4h-6zM643 842h6v4h-6zM660 842h6v4h-6zM677 842h6v4h-6zM694 842h6v4h-6zM711 842h6v4h-6zM729 842h5v4h-5zM746 842h5v4h-5zM763 842h5v4h-5zM780 842h6v4h-6zM797 842h6v4h-6zM814 842h6v4h-6zM831 842h6v4h-6zM848 842h6v4h-6zM865 842h6v4h-6zM882 842h6v4h-6zM899 842h6v4h-6zM916 842h6v4h-6zM933 842h6v4h-6zM950 842h6v4h-6zM967 842h6v4h-6zM985 842h5v4h-5zM1002 842h5v4h-5zM1019 842h5v4h-5zM1036 842h6v4h-6zM1053 842h6v4h-6zM1070 842h6v4h-6zM1087 842h6v4h-6zM1104 842h6v4h-6zM1121 842h6v4h-6zM1138 842h6v4h-6zM1155 842h6v4h-6zM1172 842h6v4h-6zM1189 842h6v4h-6zM1206 842h6v4h-6zM1223 842h6v4h-6zM1241 842h5v4h-5zM1258 842h5v4h-5zM1275 842h5v4h-5zM1292 842h6v4h-6zM1309 842h6v4h-6zM1326 842h6v4h-6zM1343 842h6v4h-6zM1360 842h6v4h-6zM1377 842h6v4h-6zM1394 842h6v4h-6zM1411 842h6v4h-6zM1428 842h6v4h-6zM1445 842h6v4h-6zM1462 842h6v4h-6zM1479 842h6v4h-6zM1497 842h5v4h-5zM1514 842h5v4h-5zM1531 842h5v4h-5zM1548 842h6v4h-6zM1565 842h6v4h-6zM1582 842h6v4h-6zM1599 842h6v4h-6zM1616 842h6v4h-6zM1633 842h6v4h-6zM1650 842h6v4h-6zM1667 842h6v4h-6zM1684 842h6v4h-6zM1701 842h6v4h-6zM1718 842h6v4h-6zM1735 842h6v4h-6zM1753 842h5v4h-5zM1770 842h5v4h-5zM1787 842h5v4h-5zM1804 842h6v4h-6zM1821 842h6v4h-6zM1838 842h6v4h-6zM1855 842h6v4h-6zM1872 842h6v4h-6zM1889 842h6v4h-6zM1906 842h6v4h-6zM1923 842h6v4h-6zM1940 842h6v4h-6zM1957 842h6v4h-6zM1974 842h6v4h-6zM1991 842h6v4h-6zM2009 842h5v4h-5zM2026 842h5v4h-5zM2043 842h5v4h-5zM2060 842h6v4h-6zM2077 842h6v4h-6zM2094 842h3v4h-3zM251 810h5v4h-5zM268 810h6v4h-6zM285 810h6v4h-6zM302 810h6v4h-6zM319 810h6v4h-6zM336 810h6v4h-6zM353 810h6v4h-6zM370 810h6v4h-6zM387 810h6v4h-6zM404 810h6v4h-6zM421 810h6v4h-6zM438 810h6v4h-6zM455 810h6v4h-6zM473 810h5v4h-5zM490 810h5v4h-5zM507 810h5v4h-5zM524 810h6v4h-6zM541 810h6v4h-6zM558 810h6v4h-6zM575 810h6v4h-6zM592 810h6v4h-6zM609 810h6v4h-6zM626 810h6v4h-6zM643 810h6v4h-6zM660 810h6v4h-6zM677 810h6v4h-6zM694 810h6v4h-6zM711 810h6v4h-6zM729 810h5v4h-5zM746 810h5v4h-5zM763 810h5v4h-5zM780 810h6v4h-6zM797 810h6v4h-6zM814 810h6v4h-6zM831 810h6v4h-6zM848 810h6v4h-6zM865 810h6v4h-6zM882 810h6v4h-6zM899 810h6v4h-6zM916 810h6v4h-6zM933 810h6v4h-6zM950 810h6v4h-6zM967 810h6v4h-6zM985 810h5v4h-5zM1002 810h5v4h-5zM1019 810h5v4h-5zM1036 810h6v4h-6zM1053 810h6v4h-6zM1070 810h6v4h-6zM1087 810h6v4h-6zM1104 810h6v4h-6zM1121 810h6v4h-6zM1138 810h6v4h-6zM1155 810h6v4h-6zM1172 810h6v4h-6zM1189 810h6v4h-6zM1206 810h6v4h-6zM1223 810h6v4h-6zM1241 810h5v4h-5zM1258 810h5v4h-5zM1275 810h5v4h-5zM1292 810h6v4h-6zM1309 810h6v4h-6zM1326 810h6v4h-6zM1343 810h6v4h-6zM1360 810h6v4h-6zM1377 810h6v4h-6zM1394 810h6v4h-6zM1411 810h6v4h-6zM1428 810h6v4h-6zM1445 810h6v4h-6zM1462 810h6v4h-6zM1479 810h6v4h-6zM1497 810h5v4h-5zM1514 810h5v4h-5zM1531 810h5v4h-5zM1548 810h6v4h-6zM1565 810h6v4h-6zM1582 810h6v4h-6zM1599 810h6v4h-6zM1616 810h6v4h-6zM1633 810h6v4h-6zM1650 810h6v4h-6zM1667 810h6v4h-6zM1684 810h6v4h-6zM1701 810h6v4h-6zM1718 810h6v4h-6zM1735 810h6v4h-6zM1753 810h5v4h-5zM1770 810h5v4h-5zM1787 810h5v4h-5zM1804 810h6v4h-6zM1821 810h6v4h-6zM1838 810h6v4h-6zM1855 810h6v4h-6zM1872 810h6v4h-6zM1889 810h6v4h-6zM1906 810h6v4h-6zM1923 810h6v4h-6zM1940 810h6v4h-6zM1957 810h6v4h-6zM1974 810h6v4h-6zM1991 810h6v4h-6zM2009 810h5v4h-5zM2026 810h5v4h-5zM2043 810h5v4h-5zM2060 810h6v4h-6zM2077 810h6v4h-6zM2094 810h3v4h-3zM251 784h5v4h-5zM268 784h6v4h-6zM285 784h6v4h-6zM302 784h6v4h-6zM319 784h6v4h-6zM336 784h6v4h-6zM353 784h6v4h-6zM370 784h6v4h-6zM387 784h6v4h-6zM404 784h6v4h-6zM421 784h6v4h-6zM438 784h6v4h-6zM455 784h6v4h-6zM473 784h5v4h-5zM490 784h5v4h-5zM507 784h5v4h-5zM524 784h6v4h-6zM541 784h6v4h-6zM558 784h6v4h-6zM575 784h6v4h-6zM592 784h6v4h-6zM609 784h6v4h-6zM626 784h6v4h-6zM643 784h6v4h-6zM660 784h6v4h-6zM677 784h6v4h-6zM694 784h6v4h-6zM711 784h6v4h-6zM729 784h5v4h-5zM746 784h5v4h-5zM763 784h5v4h-5zM780 784h6v4h-6zM797 784h6v4h-6zM814 784h6v4h-6zM831 784h6v4h-6zM848 784h6v4h-6zM865 784h6v4h-6zM882 784h6v4h-6zM899 784h6v4h-6zM916 784h6v4h-6zM933 784h6v4h-6zM950 784h6v4h-6zM967 784h6v4h-6zM985 784h5v4h-5zM1002 784h5v4h-5zM1019 784h5v4h-5zM1036 784h6v4h-6zM1053 784h6v4h-6zM1070 784h6v4h-6zM1087 784h6v4h-6zM1104 784h6v4h-6zM1121 784h6v4h-6zM1138 784h6v4h-6zM1155 784h6v4h-6zM1172 784h6v4h-6zM1189 784h6v4h-6zM1206 784h6v4h-6zM1223 784h6v4h-6zM1241 784h5v4h-5zM1258 784h5v4h-5zM1275 784h5v4h-5zM1292 784h6v4h-6zM1309 784h6v4h-6zM1326 784h6v4h-6zM1343 784h6v4h-6zM1360 784h6v4h-6zM1377 784h6v4h-6zM1394 784h6v4h-6zM1411 784h6v4h-6zM1428 784h6v4h-6zM1445 784h6v4h-6zM1462 784h6v4h-6zM1479 784h6v4h-6zM1497 784h5v4h-5zM1514 784h5v4h-5zM1531 784h5v4h-5zM1548 784h6v4h-6zM1565 784h6v4h-6zM1582 784h6v4h-6zM1599 784h6v4h-6zM1616 784h6v4h-6zM1633 784h6v4h-6zM1650 784h6v4h-6zM1667 784h6v4h-6zM1684 784h6v4h-6zM1701 784h6v4h-6zM1718 784h6v4h-6zM1735 784h6v4h-6zM1753 784h5v4h-5zM1770 784h5v4h-5zM1787 784h5v4h-5zM1804 784h6v4h-6zM1821 784h6v4h-6zM1838 784h6v4h-6zM1855 784h6v4h-6zM1872 784h6v4h-6zM1889 784h6v4h-6zM1906 784h6v4h-6zM1923 784h6v4h-6zM1940 784h6v4h-6zM1957 784h6v4h-6zM1974 784h6v4h-6zM1991 784h6v4h-6zM2009 784h5v4h-5zM2026 784h5v4h-5zM2043 784h5v4h-5zM2060 784h6v4h-6zM2077 784h6v4h-6zM2094 784h3v4h-3zM251 761h5v4h-5zM268 761h6v4h-6zM285 761h6v4h-6zM302 761h6v4h-6zM319 761h6v4h-6zM336 761h6v4h-6zM353 761h6v4h-6zM370 761h6v4h-6zM387 761h6v4h-6zM404 761h6v4h-6zM421 761h6v4h-6zM438 761h6v4h-6zM455 761h6v4h-6zM473 761h5v4h-5zM490 761h5v4h-5zM507 761h5v4h-5zM524 761h6v4h-6zM541 761h6v4h-6zM558 761h6v4h-6zM575 761h6v4h-6zM592 761h6v4h-6zM609 761h6v4h-6zM626 761h6v4h-6zM643 761h6v4h-6zM660 761h6v4h-6zM677 761h6v4h-6zM694 761h6v4h-6zM711 761h6v4h-6zM729 761h5v4h-5zM746 761h5v4h-5zM763 761h5v4h-5zM780 761h6v4h-6zM797 761h6v4h-6zM814 761h6v4h-6zM831 761h6v4h-6zM848 761h6v4h-6zM865 761h6v4h-6zM882 761h6v4h-6zM899 761h6v4h-6zM916 761h6v4h-6zM933 761h6v4h-6zM950 761h6v4h-6zM967 761h6v4h-6zM985 761h5v4h-5zM1002 761h5v4h-5zM1019 761h5v4h-5zM1036 761h6v4h-6zM1053 761h6v4h-6zM1070 761h6v4h-6zM1087 761h6v4h-6zM1104 761h6v4h-6zM1121 761h6v4h-6zM1138 761h6v4h-6zM1155 761h6v4h-6zM1172 761h6v4h-6zM1189 761h6v4h-6zM1206 761h6v4h-6zM1223 761h6v4h-6zM1241 761h5v4h-5zM1258 761h5v4h-5zM1275 761h5v4h-5zM1292 761h6v4h-6zM1309 761h6v4h-6zM1326 761h6v4h-6zM1343 761h6v4h-6zM1360 761h6v4h-6zM1377 761h6v4h-6zM1394 761h6v4h-6zM1411 761h6v4h-6zM1428 761h6v4h-6zM1445 761h6v4h-6zM1462 761h6v4h-6zM1479 761h6v4h-6zM1497 761h5v4h-5zM1514 761h5v4h-5zM1531 761h5v4h-5zM1548 761h6v4h-6zM1565 761h6v4h-6zM1582 761h6v4h-6zM1599 761h6v4h-6zM1616 761h6v4h-6zM1633 761h6v4h-6zM1650 761h6v4h-6zM1667 761h6v4h-6zM1684 761h6v4h-6zM1701 761h6v4h-6zM1718 761h6v4h-6zM1735 761h6v4h-6zM1753 761h5v4h-5zM1770 761h5v4h-5zM1787 761h5v4h-5zM1804 761h6v4h-6zM1821 761h6v4h-6zM1838 761h6v4h-6zM1855 761h6v4h-6zM1872 761h6v4h-6zM1889 761h6v4h-6zM1906 761h6v4h-6zM1923 761h6v4h-6zM1940 761h6v4h-6zM1957 761h6v4h-6zM1974 761h6v4h-6zM1991 761h6v4h-6zM2009 761h5v4h-5zM2026 761h5v4h-5zM2043 761h5v4h-5zM2060 761h6v4h-6zM2077 761h6v4h-6zM2094 761h3v4h-3zM251 740h5v4h-5zM268 740h6v4h-6zM285 740h6v4h-6zM302 740h6v4h-6zM319 740h6v4h-6zM336 740h6v4h-6zM353 740h6v4h-6zM370 740h6v4h-6zM387 740h6v4h-6zM404 740h6v4h-6zM421 740h6v4h-6zM438 740h6v4h-6zM455 740h6v4h-6zM473 740h5v4h-5zM490 740h5v4h-5zM507 740h5v4h-5zM524 740h6v4h-6zM541 740h6v4h-6zM558 740h6v4h-6zM575 740h6v4h-6zM592 740h6v4h-6zM609 740h6v4h-6zM626 740h6v4h-6zM643 740h6v4h-6zM660 740h6v4h-6zM677 740h6v4h-6zM694 740h6v4h-6zM711 740h6v4h-6zM729 740h5v4h-5zM746 740h5v4h-5zM763 740h5v4h-5zM780 740h6v4h-6zM797 740h6v4h-6zM814 740h6v4h-6zM831 740h6v4h-6zM848 740h6v4h-6zM865 740h6v4h-6zM882 740h6v4h-6zM899 740h6v4h-6zM916 740h6v4h-6zM933 740h6v4h-6zM950 740h6v4h-6zM967 740h6v4h-6zM985 740h5v4h-5zM1002 740h5v4h-5zM1019 740h5v4h-5zM1036 740h6v4h-6zM1053 740h6v4h-6zM1070 740h6v4h-6zM1087 740h6v4h-6zM1104 740h6v4h-6zM1121 740h6v4h-6zM1138 740h6v4h-6zM1155 740h6v4h-6zM1172 740h6v4h-6zM1189 740h6v4h-6zM1206 740h6v4h-6zM1223 740h6v4h-6zM1241 740h5v4h-5zM1258 740h5v4h-5zM1275 740h5v4h-5zM1292 740h6v4h-6zM1309 740h6v4h-6zM1326 740h6v4h-6zM1343 740h6v4h-6zM1360 740h6v4h-6zM1377 740h6v4h-6zM1394 740h6v4h-6zM1411 740h6v4h-6zM1428 740h6v4h-6zM1445 740h6v4h-6zM1462 740h6v4h-6zM1479 740h6v4h-6zM1497 740h5v4h-5zM1514 740h5v4h-5zM1531 740h5v4h-5zM1548 740h6v4h-6zM1565 740h6v4h-6zM1582 740h6v4h-6zM1599 740h6v4h-6zM1616 740h6v4h-6zM1633 740h6v4h-6zM1650 740h6v4h-6zM1667 740h6v4h-6zM1684 740h6v4h-6zM1701 740h6v4h-6zM1718 740h6v4h-6zM1735 740h6v4h-6zM1753 740h5v4h-5zM1770 740h5v4h-5zM1787 740h5v4h-5zM1804 740h6v4h-6zM1821 740h6v4h-6zM1838 740h6v4h-6zM1855 740h6v4h-6zM1872 740h6v4h-6zM1889 740h6v4h-6zM1906 740h6v4h-6zM1923 740h6v4h-6zM1940 740h6v4h-6zM1957 740h6v4h-6zM1974 740h6v4h-6zM1991 740h6v4h-6zM2009 740h5v4h-5zM2026 740h5v4h-5zM2043 740h5v4h-5zM2060 740h6v4h-6zM2077 740h6v4h-6zM2094 740h3v4h-3zM251 1398h5v4h-5zM268 1398h6v4h-6zM285 1398h6v4h-6zM302 1398h6v4h-6zM319 1398h6v4h-6zM336 1398h6v4h-6zM353 1398h6v4h-6zM370 1398h6v4h-6zM387 1398h6v4h-6zM404 1398h6v4h-6zM421 1398h6v4h-6zM438 1398h6v4h-6zM455 1398h6v4h-6zM473 1398h5v4h-5zM490 1398h5v4h-5zM507 1398h5v4h-5zM524 1398h6v4h-6zM541 1398h6v4h-6zM558 1398h6v4h-6zM575 1398h6v4h-6zM592 1398h6v4h-6zM609 1398h6v4h-6zM626 1398h6v4h-6zM643 1398h6v4h-6zM660 1398h6v4h-6zM677 1398h6v4h-6zM694 1398h6v4h-6zM711 1398h6v4h-6zM729 1398h5v4h-5zM746 1398h5v4h-5zM763 1398h5v4h-5zM780 1398h6v4h-6zM797 1398h6v4h-6zM814 1398h6v4h-6zM831 1398h6v4h-6zM848 1398h6v4h-6zM865 1398h6v4h-6zM882 1398h6v4h-6zM899 1398h6v4h-6zM916 1398h6v4h-6zM933 1398h6v4h-6zM950 1398h6v4h-6zM967 1398h6v4h-6zM985 1398h5v4h-5zM1002 1398h5v4h-5zM1019 1398h5v4h-5zM1036 1398h6v4h-6zM1053 1398h6v4h-6zM1070 1398h6v4h-6zM1087 1398h6v4h-6zM1104 1398h6v4h-6zM1121 1398h6v4h-6zM1138 1398h6v4h-6zM1155 1398h6v4h-6zM1172 1398h6v4h-6zM1189 1398h6v4h-6zM1206 1398h6v4h-6zM1223 1398h6v4h-6zM1241 1398h5v4h-5zM1258 1398h5v4h-5zM1275 1398h5v4h-5zM1292 1398h6v4h-6zM1309 1398h6v4h-6zM1326 1398h6v4h-6zM1343 1398h6v4h-6zM1360 1398h6v4h-6zM1377 1398h6v4h-6zM1394 1398h6v4h-6zM1411 1398h6v4h-6zM1428 1398h6v4h-6zM1445 1398h6v4h-6zM1462 1398h6v4h-6zM1479 1398h6v4h-6zM1497 1398h5v4h-5zM1514 1398h5v4h-5zM1531 1398h5v4h-5zM1548 1398h6v4h-6zM1565 1398h6v4h-6zM1582 1398h6v4h-6zM1599 1398h6v4h-6zM1616 1398h6v4h-6zM1633 1398h6v4h-6zM1650 1398h6v4h-6zM1667 1398h6v4h-6zM1684 1398h6v4h-6zM1701 1398h6v4h-6zM1718 1398h6v4h-6zM1735 1398h6v4h-6zM1753 1398h5v4h-5zM1770 1398h5v4h-5zM1787 1398h5v4h-5zM1804 1398h6v4h-6zM1821 1398h6v4h-6zM1838 1398h6v4h-6zM1855 1398h6v4h-6zM1872 1398h6v4h-6zM1889 1398h6v4h-6zM1906 1398h6v4h-6zM1923 1398h6v4h-6zM1940 1398h6v4h-6zM1957 1398h6v4h-6zM1974 1398h6v4h-6zM1991 1398h6v4h-6zM2009 1398h5v4h-5zM2026 1398h5v4h-5zM2043 1398h5v4h-5zM2060 1398h6v4h-6zM2077 1398h6v4h-6zM2094 1398h3v4h-3zM251 1328h5v4h-5zM268 1328h6v4h-6zM285 1328h6v4h-6zM302 1328h6v4h-6zM319 1328h6v4h-6zM336 1328h6v4h-6zM353 1328h6v4h-6zM370 1328h6v4h-6zM387 1328h6v4h-6zM404 1328h6v4h-6zM421 1328h6v4h-6zM438 1328h6v4h-6zM455 1328h6v4h-6zM473 1328h5v4h-5zM490 1328h5v4h-5zM507 1328h5v4h-5zM524 1328h6v4h-6zM541 1328h6v4h-6zM558 1328h6v4h-6zM575 1328h6v4h-6zM592 1328h6v4h-6zM609 1328h6v4h-6zM626 1328h6v4h-6zM643 1328h6v4h-6zM660 1328h6v4h-6zM677 1328h6v4h-6zM694 1328h6v4h-6zM711 1328h6v4h-6zM729 1328h5v4h-5zM746 1328h5v4h-5zM763 1328h5v4h-5zM780 1328h6v4h-6zM797 1328h6v4h-6zM814 1328h6v4h-6zM831 1328h6v4h-6zM848 1328h6v4h-6zM865 1328h6v4h-6zM882 1328h6v4h-6zM899 1328h6v4h-6zM916 1328h6v4h-6zM933 1328h6v4h-6zM950 1328h6v4h-6zM967 1328h6v4h-6zM985 1328h5v4h-5zM1002 1328h5v4h-5zM1019 1328h5v4h-5zM1036 1328h6v4h-6zM1053 1328h6v4h-6zM1070 1328h6v4h-6zM1087 1328h6v4h-6zM1104 1328h6v4h-6zM1121 1328h6v4h-6zM1138 1328h6v4h-6zM1155 1328h6v4h-6zM1172 1328h6v4h-6zM1189 1328h6v4h-6zM1206 1328h6v4h-6zM1223 1328h6v4h-6zM1241 1328h5v4h-5zM1258 1328h5v4h-5zM1275 1328h5v4h-5zM1292 1328h6v4h-6zM1309 1328h6v4h-6zM1326 1328h6v4h-6zM1343 1328h6v4h-6zM1360 1328h6v4h-6zM1377 1328h6v4h-6zM1394 1328h6v4h-6zM1411 1328h6v4h-6zM1428 1328h6v4h-6zM1445 1328h6v4h-6zM1462 1328h6v4h-6zM1479 1328h6v4h-6zM1497 1328h5v4h-5zM1514 1328h5v4h-5zM1531 1328h5v4h-5zM1548 1328h6v4h-6zM1565 1328h6v4h-6zM1582 1328h6v4h-6zM1599 1328h6v4h-6zM1616 1328h6v4h-6zM1633 1328h6v4h-6zM1650 1328h6v4h-6zM1667 1328h6v4h-6zM1684 1328h6v4h-6zM1701 1328h6v4h-6zM1718 1328h6v4h-6zM1735 1328h6v4h-6zM1753 1328h5v4h-5zM1770 1328h5v4h-5zM1787 1328h5v4h-5zM1804 1328h6v4h-6zM1821 1328h6v4h-6zM1838 1328h6v4h-6zM1855 1328h6v4h-6zM1872 1328h6v4h-6zM1889 1328h6v4h-6zM1906 1328h6v4h-6zM1923 1328h6v4h-6zM1940 1328h6v4h-6zM1957 1328h6v4h-6zM1974 1328h6v4h-6zM1991 1328h6v4h-6zM2009 1328h5v4h-5zM2026 1328h5v4h-5zM2043 1328h5v4h-5zM2060 1328h6v4h-6zM2077 1328h6v4h-6zM2094 1328h3v4h-3zM251 1278h5v4h-5zM268 1278h6v4h-6zM285 1278h6v4h-6zM302 1278h6v4h-6zM319 1278h6v4h-6zM336 1278h6v4h-6zM353 1278h6v4h-6zM370 1278h6v4h-6zM387 1278h6v4h-6zM404 1278h6v4h-6zM421 1278h6v4h-6zM438 1278h6v4h-6zM455 1278h6v4h-6zM473 1278h5v4h-5zM490 1278h5v4h-5zM507 1278h5v4h-5zM524 1278h6v4h-6zM541 1278h6v4h-6zM558 1278h6v4h-6zM575 1278h6v4h-6zM592 1278h6v4h-6zM609 1278h6v4h-6zM626 1278h6v4h-6zM643 1278h6v4h-6zM660 1278h6v4h-6zM677 1278h6v4h-6zM694 1278h6v4h-6zM711 1278h6v4h-6zM729 1278h5v4h-5zM746 1278h5v4h-5zM763 1278h5v4h-5zM780 1278h6v4h-6zM797 1278h6v4h-6zM814 1278h6v4h-6zM831 1278h6v4h-6zM848 1278h6v4h-6zM865 1278h6v4h-6zM882 1278h6v4h-6zM899 1278h6v4h-6zM916 1278h6v4h-6zM933 1278h6v4h-6zM950 1278h6v4h-6zM967 1278h6v4h-6zM985 1278h5v4h-5zM1002 1278h5v4h-5zM1019 1278h5v4h-5zM1036 1278h6v4h-6zM1053 1278h6v4h-6zM1070 1278h6v4h-6zM1087 1278h6v4h-6zM1104 1278h6v4h-6zM1121 1278h6v4h-6zM1138 1278h6v4h-6zM1155 1278h6v4h-6zM1172 1278h6v4h-6zM1189 1278h6v4h-6zM1206 1278h6v4h-6zM1223 1278h6v4h-6zM1241 1278h5v4h-5zM1258 1278h5v4h-5zM1275 1278h5v4h-5zM1292 1278h6v4h-6zM1309 1278h6v4h-6zM1326 1278h6v4h-6zM1343 1278h6v4h-6zM1360 1278h6v4h-6zM1377 1278h6v4h-6zM1394 1278h6v4h-6zM1411 1278h6v4h-6zM1428 1278h6v4h-6zM1445 1278h6v4h-6zM1462 1278h6v4h-6zM1479 1278h6v4h-6zM1497 1278h5v4h-5zM1514 1278h5v4h-5zM1531 1278h5v4h-5zM1548 1278h6v4h-6zM1565 1278h6v4h-6zM1582 1278h6v4h-6zM1599 1278h6v4h-6zM1616 1278h6v4h-6zM1633 1278h6v4h-6zM1650 1278h6v4h-6zM1667 1278h6v4h-6zM1684 1278h6v4h-6zM1701 1278h6v4h-6zM1718 1278h6v4h-6zM1735 1278h6v4h-6zM1753 1278h5v4h-5zM1770 1278h5v4h-5zM1787 1278h5v4h-5zM1804 1278h6v4h-6zM1821 1278h6v4h-6zM1838 1278h6v4h-6zM1855 1278h6v4h-6zM1872 1278h6v4h-6zM1889 1278h6v4h-6zM1906 1278h6v4h-6zM1923 1278h6v4h-6zM1940 1278h6v4h-6zM1957 1278h6v4h-6zM1974 1278h6v4h-6zM1991 1278h6v4h-6zM2009 1278h5v4h-5zM2026 1278h5v4h-5zM2043 1278h5v4h-5zM2060 1278h6v4h-6zM2077 1278h6v4h-6zM2094 1278h3v4h-3zM251 1240h5v4h-5zM268 1240h6v4h-6zM285 1240h6v4h-6zM302 1240h6v4h-6zM319 1240h6v4h-6zM336 1240h6v4h-6zM353 1240h6v4h-6zM370 1240h6v4h-6zM387 1240h6v4h-6zM404 1240h6v4h-6zM421 1240h6v4h-6zM438 1240h6v4h-6zM455 1240h6v4h-6zM473 1240h5v4h-5zM490 1240h5v4h-5zM507 1240h5v4h-5zM524 1240h6v4h-6zM541 1240h6v4h-6zM558 1240h6v4h-6zM575 1240h6v4h-6zM592 1240h6v4h-6zM609 1240h6v4h-6zM626 1240h6v4h-6zM643 1240h6v4h-6zM660 1240h6v4h-6zM677 1240h6v4h-6zM694 1240h6v4h-6zM711 1240h6v4h-6zM729 1240h5v4h-5zM746 1240h5v4h-5zM763 1240h5v4h-5zM780 1240h6v4h-6zM797 1240h6v4h-6zM814 1240h6v4h-6zM831 1240h6v4h-6zM848 1240h6v4h-6zM865 1240h6v4h-6zM882 1240h6v4h-6zM899 1240h6v4h-6zM916 1240h6v4h-6zM933 1240h6v4h-6zM950 1240h6v4h-6zM967 1240h6v4h-6zM985 1240h5v4h-5zM1002 1240h5v4h-5zM1019 1240h5v4h-5zM1036 1240h6v4h-6zM1053 1240h6v4h-6zM1070 1240h6v4h-6zM1087 1240h6v4h-6zM1104 1240h6v4h-6zM1121 1240h6v4h-6zM1138 1240h6v4h-6zM1155 1240h6v4h-6zM1172 1240h6v4h-6zM1189 1240h6v4h-6zM1206 1240h6v4h-6zM1223 1240h6v4h-6zM1241 1240h5v4h-5zM1258 1240h5v4h-5zM1275 1240h5v4h-5zM1292 1240h6v4h-6zM1309 1240h6v4h-6zM1326 1240h6v4h-6zM1343 1240h6v4h-6zM1360 1240h6v4h-6zM1377 1240h6v4h-6zM1394 1240h6v4h-6zM1411 1240h6v4h-6zM1428 1240h6v4h-6zM1445 1240h6v4h-6zM1462 1240h6v4h-6zM1479 1240h6v4h-6zM1497 1240h5v4h-5zM1514 1240h5v4h-5zM1531 1240h5v4h-5zM1548 1240h6v4h-6zM1565 1240h6v4h-6zM1582 1240h6v4h-6zM1599 1240h6v4h-6zM1616 1240h6v4h-6zM1633 1240h6v4h-6zM1650 1240h6v4h-6zM1667 1240h6v4h-6zM1684 1240h6v4h-6zM1701 1240h6v4h-6zM1718 1240h6v4h-6zM1735 1240h6v4h-6zM1753 1240h5v4h-5zM1770 1240h5v4h-5zM1787 1240h5v4h-5zM1804 1240h6v4h-6zM1821 1240h6v4h-6zM1838 1240h6v4h-6zM1855 1240h6v4h-6zM1872 1240h6v4h-6zM1889 1240h6v4h-6zM1906 1240h6v4h-6zM1923 1240h6v4h-6zM1940 1240h6v4h-6zM1957 1240h6v4h-6zM1974 1240h6v4h-6zM1991 1240h6v4h-6zM2009 1240h5v4h-5zM2026 1240h5v4h-5zM2043 1240h5v4h-5zM2060 1240h6v4h-6zM2077 1240h6v4h-6zM2094 1240h3v4h-3zM251 1208h5v4h-5zM268 1208h6v4h-6zM285 1208h6v4h-6zM302 1208h6v4h-6zM319 1208h6v4h-6zM336 1208h6v4h-6zM353 1208h6v4h-6zM370 1208h6v4h-6zM387 1208h6v4h-6zM404 1208h6v4h-6zM421 1208h6v4h-6zM438 1208h6v4h-6zM455 1208h6v4h-6zM473 1208h5v4h-5zM490 1208h5v4h-5zM507 1208h5v4h-5zM524 1208h6v4h-6zM541 1208h6v4h-6zM558 1208h6v4h-6zM575 1208h6v4h-6zM592 1208h6v4h-6zM609 1208h6v4h-6zM626 1208h6v4h-6zM643 1208h6v4h-6zM660 1208h6v4h-6zM677 1208h6v4h-6zM694 1208h6v4h-6zM711 1208h6v4h-6zM729 1208h5v4h-5zM746 1208h5v4h-5zM763 1208h5v4h-5zM780 1208h6v4h-6zM797 1208h6v4h-6zM814 1208h6v4h-6zM831 1208h6v4h-6zM848 1208h6v4h-6zM865 1208h6v4h-6zM882 1208h6v4h-6zM899 1208h6v4h-6zM916 1208h6v4h-6zM933 1208h6v4h-6zM950 1208h6v4h-6zM967 1208h6v4h-6zM985 1208h5v4h-5zM1002 1208h5v4h-5zM1019 1208h5v4h-5zM1036 1208h6v4h-6zM1053 1208h6v4h-6zM1070 1208h6v4h-6zM1087 1208h6v4h-6zM1104 1208h6v4h-6zM1121 1208h6v4h-6zM1138 1208h6v4h-6zM1155 1208h6v4h-6zM1172 1208h6v4h-6zM1189 1208h6v4h-6zM1206 1208h6v4h-6zM1223 1208h6v4h-6zM1241 1208h5v4h-5zM1258 1208h5v4h-5zM1275 1208h5v4h-5zM1292 1208h6v4h-6zM1309 1208h6v4h-6zM1326 1208h6v4h-6zM1343 1208h6v4h-6zM1360 1208h6v4h-6zM1377 1208h6v4h-6zM1394 1208h6v4h-6zM1411 1208h6v4h-6zM1428 1208h6v4h-6zM1445 1208h6v4h-6zM1462 1208h6v4h-6zM1479 1208h6v4h-6zM1497 1208h5v4h-5zM1514 1208h5v4h-5zM1531 1208h5v4h-5zM1548 1208h6v4h-6zM1565 1208h6v4h-6zM1582 1208h6v4h-6zM1599 1208h6v4h-6zM1616 1208h6v4h-6zM1633 1208h6v4h-6zM1650 1208h6v4h-6zM1667 1208h6v4h-6zM1684 1208h6v4h-6zM1701 1208h6v4h-6zM1718 1208h6v4h-6zM1735 1208h6v4h-6zM1753 1208h5v4h-5zM1770 1208h5v4h-5zM1787 1208h5v4h-5zM1804 1208h6v4h-6zM1821 1208h6v4h-6zM1838 1208h6v4h-6zM1855 1208h6v4h-6zM1872 1208h6v4h-6zM1889 1208h6v4h-6zM1906 1208h6v4h-6zM1923 1208h6v4h-6zM1940 1208h6v4h-6zM1957 1208h6v4h-6zM1974 1208h6v4h-6zM1991 1208h6v4h-6zM2009 1208h5v4h-5zM2026 1208h5v4h-5zM2043 1208h5v4h-5zM2060 1208h6v4h-6zM2077 1208h6v4h-6zM2094 1208h3v4h-3zM251 1182h5v4h-5zM268 1182h6v4h-6zM285 1182h6v4h-6zM302 1182h6v4h-6zM319 1182h6v4h-6zM336 1182h6v4h-6zM353 1182h6v4h-6zM370 1182h6v4h-6zM387 1182h6v4h-6zM404 1182h6v4h-6zM421 1182h6v4h-6zM438 1182h6v4h-6zM455 1182h6v4h-6zM473 1182h5v4h-5zM490 1182h5v4h-5zM507 1182h5v4h-5zM524 1182h6v4h-6zM541 1182h6v4h-6zM558 1182h6v4h-6zM575 1182h6v4h-6zM592 1182h6v4h-6zM609 1182h6v4h-6zM626 1182h6v4h-6zM643 1182h6v4h-6zM660 1182h6v4h-6zM677 1182h6v4h-6zM694 1182h6v4h-6zM711 1182h6v4h-6zM729 1182h5v4h-5zM746 1182h5v4h-5zM763 1182h5v4h-5zM780 1182h6v4h-6zM797 1182h6v4h-6zM814 1182h6v4h-6zM831 1182h6v4h-6zM848 1182h6v4h-6zM865 1182h6v4h-6zM882 1182h6v4h-6zM899 1182h6v4h-6zM916 1182h6v4h-6zM933 1182h6v4h-6zM950 1182h6v4h-6zM967 1182h6v4h-6zM985 1182h5v4h-5zM1002 1182h5v4h-5zM1019 1182h5v4h-5zM1036 1182h6v4h-6zM1053 1182h6v4h-6zM1070 1182h6v4h-6zM1087 1182h6v4h-6zM1104 1182h6v4h-6zM1121 1182h6v4h-6zM1138 1182h6v4h-6zM1155 1182h6v4h-6zM1172 1182h6v4h-6zM1189 1182h6v4h-6zM1206 1182h6v4h-6zM1223 1182h6v4h-6zM1241 1182h5v4h-5zM1258 1182h5v4h-5zM1275 1182h5v4h-5zM1292 1182h6v4h-6zM1309 1182h6v4h-6zM1326 1182h6v4h-6zM1343 1182h6v4h-6zM1360 1182h6v4h-6zM1377 1182h6v4h-6zM1394 1182h6v4h-6zM1411 1182h6v4h-6zM1428 1182h6v4h-6zM1445 1182h6v4h-6zM1462 1182h6v4h-6zM1479 1182h6v4h-6zM1497 1182h5v4h-5zM1514 1182h5v4h-5zM1531 1182h5v4h-5zM1548 1182h6v4h-6zM1565 1182h6v4h-6zM1582 1182h6v4h-6zM1599 1182h6v4h-6zM1616 1182h6v4h-6zM1633 1182h6v4h-6zM1650 1182h6v4h-6zM1667 1182h6v4h-6zM1684 1182h6v4h-6zM1701 1182h6v4h-6zM1718 1182h6v4h-6zM1735 1182h6v4h-6zM1753 1182h5v4h-5zM1770 1182h5v4h-5zM1787 1182h5v4h-5zM1804 1182h6v4h-6zM1821 1182h6v4h-6zM1838 1182h6v4h-6zM1855 1182h6v4h-6zM1872 1182h6v4h-6zM1889 1182h6v4h-6zM1906 1182h6v4h-6zM1923 1182h6v4h-6zM1940 1182h6v4h-6zM1957 1182h6v4h-6zM1974 1182h6v4h-6zM1991 1182h6v4h-6zM2009 1182h5v4h-5zM2026 1182h5v4h-5zM2043 1182h5v4h-5zM2060 1182h6v4h-6zM2077 1182h6v4h-6zM2094 1182h3v4h-3zM251 1159h5v4h-5zM268 1159h6v4h-6zM285 1159h6v4h-6zM302 1159h6v4h-6zM319 1159h6v4h-6zM336 1159h6v4h-6zM353 1159h6v4h-6zM370 1159h6v4h-6zM387 1159h6v4h-6zM404 1159h6v4h-6zM421 1159h6v4h-6zM438 1159h6v4h-6zM455 1159h6v4h-6zM473 1159h5v4h-5zM490 1159h5v4h-5zM507 1159h5v4h-5zM524 1159h6v4h-6zM541 1159h6v4h-6zM558 1159h6v4h-6zM575 1159h6v4h-6zM592 1159h6v4h-6zM609 1159h6v4h-6zM626 1159h6v4h-6zM643 1159h6v4h-6zM660 1159h6v4h-6zM677 1159h6v4h-6zM694 1159h6v4h-6zM711 1159h6v4h-6zM729 1159h5v4h-5zM746 1159h5v4h-5zM763 1159h5v4h-5zM780 1159h6v4h-6zM797 1159h6v4h-6zM814 1159h6v4h-6zM831 1159h6v4h-6zM848 1159h6v4h-6zM865 1159h6v4h-6zM882 1159h6v4h-6zM899 1159h6v4h-6zM916 1159h6v4h-6zM933 1159h6v4h-6zM950 1159h6v4h-6zM967 1159h6v4h-6zM985 1159h5v4h-5zM1002 1159h5v4h-5zM1019 1159h5v4h-5zM1036 1159h6v4h-6zM1053 1159h6v4h-6zM1070 1159h6v4h-6zM1087 1159h6v4h-6zM1104 1159h6v4h-6zM1121 1159h6v4h-6zM1138 1159h6v4h-6zM1155 1159h6v4h-6zM1172 1159h6v4h-6zM1189 1159h6v4h-6zM1206 1159h6v4h-6zM1223 1159h6v4h-6zM1241 1159h5v4h-5zM1258 1159h5v4h-5zM1275 1159h5v4h-5zM1292 1159h6v4h-6zM1309 1159h6v4h-6zM1326 1159h6v4h-6zM1343 1159h6v4h-6zM1360 1159h6v4h-6zM1377 1159h6v4h-6zM1394 1159h6v4h-6zM1411 1159h6v4h-6zM1428 1159h6v4h-6zM1445 1159h6v4h-6zM1462 1159h6v4h-6zM1479 1159h6v4h-6zM1497 1159h5v4h-5zM1514 1159h5v4h-5zM1531 1159h5v4h-5zM1548 1159h6v4h-6zM1565 1159h6v4h-6zM1582 1159h6v4h-6zM1599 1159h6v4h-6zM1616 1159h6v4h-6zM1633 1159h6v4h-6zM1650 1159h6v4h-6zM1667 1159h6v4h-6zM1684 1159h6v4h-6zM1701 1159h6v4h-6zM1718 1159h6v4h-6zM1735 1159h6v4h-6zM1753 1159h5v4h-5zM1770 1159h5v4h-5zM1787 1159h5v4h-5zM1804 1159h6v4h-6zM1821 1159h6v4h-6zM1838 1159h6v4h-6zM1855 1159h6v4h-6zM1872 1159h6v4h-6zM1889 1159h6v4h-6zM1906 1159h6v4h-6zM1923 1159h6v4h-6zM1940 1159h6v4h-6zM1957 1159h6v4h-6zM1974 1159h6v4h-6zM1991 1159h6v4h-6zM2009 1159h5v4h-5zM2026 1159h5v4h-5zM2043 1159h5v4h-5zM2060 1159h6v4h-6zM2077 1159h6v4h-6zM2094 1159h3v4h-3zM251 1138h5v4h-5zM268 1138h6v4h-6zM285 1138h6v4h-6zM302 1138h6v4h-6zM319 1138h6v4h-6zM336 1138h6v4h-6zM353 1138h6v4h-6zM370 1138h6v4h-6zM387 1138h6v4h-6zM404 1138h6v4h-6zM421 1138h6v4h-6zM438 1138h6v4h-6zM455 1138h6v4h-6zM473 1138h5v4h-5zM490 1138h5v4h-5zM507 1138h5v4h-5zM524 1138h6v4h-6zM541 1138h6v4h-6zM558 1138h6v4h-6zM575 1138h6v4h-6zM592 1138h6v4h-6zM609 1138h6v4h-6zM626 1138h6v4h-6zM643 1138h6v4h-6zM660 1138h6v4h-6zM677 1138h6v4h-6zM694 1138h6v4h-6zM711 1138h6v4h-6zM729 1138h5v4h-5zM746 1138h5v4h-5zM763 1138h5v4h-5zM780 1138h6v4h-6zM797 1138h6v4h-6zM814 1138h6v4h-6zM831 1138h6v4h-6zM848 1138h6v4h-6zM865 1138h6v4h-6zM882 1138h6v4h-6zM899 1138h6v4h-6zM916 1138h6v4h-6zM933 1138h6v4h-6zM950 1138h6v4h-6zM967 1138h6v4h-6zM985 1138h5v4h-5zM1002 1138h5v4h-5zM1019 1138h5v4h-5zM1036 1138h6v4h-6zM1053 1138h6v4h-6zM1070 1138h6v4h-6zM1087 1138h6v4h-6zM1104 1138h6v4h-6zM1121 1138h6v4h-6zM1138 1138h6v4h-6zM1155 1138h6v4h-6zM1172 1138h6v4h-6zM1189 1138h6v4h-6zM1206 1138h6v4h-6zM1223 1138h6v4h-6zM1241 1138h5v4h-5zM1258 1138h5v4h-5zM1275 1138h5v4h-5zM1292 1138h6v4h-6zM1309 1138h6v4h-6zM1326 1138h6v4h-6zM1343 1138h6v4h-6zM1360 1138h6v4h-6zM1377 1138h6v4h-6zM1394 1138h6v4h-6zM1411 1138h6v4h-6zM1428 1138h6v4h-6zM1445 1138h6v4h-6zM1462 1138h6v4h-6zM1479 1138h6v4h-6zM1497 1138h5v4h-5zM1514 1138h5v4h-5zM1531 1138h5v4h-5zM1548 1138h6v4h-6zM1565 1138h6v4h-6zM1582 1138h6v4h-6zM1599 1138h6v4h-6zM1616 1138h6v4h-6zM1633 1138h6v4h-6zM1650 1138h6v4h-6zM1667 1138h6v4h-6zM1684 1138h6v4h-6zM1701 1138h6v4h-6zM1718 1138h6v4h-6zM1735 1138h6v4h-6zM1753 1138h5v4h-5zM1770 1138h5v4h-5zM1787 1138h5v4h-5zM1804 1138h6v4h-6zM1821 1138h6v4h-6zM1838 1138h6v4h-6zM1855 1138h6v4h-6zM1872 1138h6v4h-6zM1889 1138h6v4h-6zM1906 1138h6v4h-6zM1923 1138h6v4h-6zM1940 1138h6v4h-6zM1957 1138h6v4h-6zM1974 1138h6v4h-6zM1991 1138h6v4h-6zM2009 1138h5v4h-5zM2026 1138h5v4h-5zM2043 1138h5v4h-5zM2060 1138h6v4h-6zM2077 1138h6v4h-6zM2094 1138h3v4h-3zM251 1796h5v4h-5zM268 1796h6v4h-6zM285 1796h6v4h-6zM302 1796h6v4h-6zM319 1796h6v4h-6zM336 1796h6v4h-6zM353 1796h6v4h-6zM370 1796h6v4h-6zM387 1796h6v4h-6zM404 1796h6v4h-6zM421 1796h6v4h-6zM438 1796h6v4h-6zM455 1796h6v4h-6zM473 1796h5v4h-5zM490 1796h5v4h-5zM507 1796h5v4h-5zM524 1796h6v4h-6zM541 1796h6v4h-6zM558 1796h6v4h-6zM575 1796h6v4h-6zM592 1796h6v4h-6zM609 1796h6v4h-6zM626 1796h6v4h-6zM643 1796h6v4h-6zM660 1796h6v4h-6zM677 1796h6v4h-6zM694 1796h6v4h-6zM711 1796h6v4h-6zM729 1796h5v4h-5zM746 1796h5v4h-5zM763 1796h5v4h-5zM780 1796h6v4h-6zM797 1796h6v4h-6zM814 1796h6v4h-6zM831 1796h6v4h-6zM848 1796h6v4h-6zM865 1796h6v4h-6zM882 1796h6v4h-6zM899 1796h6v4h-6zM916 1796h6v4h-6zM933 1796h6v4h-6zM950 1796h6v4h-6zM967 1796h6v4h-6zM985 1796h5v4h-5zM1002 1796h5v4h-5zM1019 1796h5v4h-5zM1036 1796h6v4h-6zM1053 1796h6v4h-6zM1070 1796h6v4h-6zM1087 1796h6v4h-6zM1104 1796h6v4h-6zM1121 1796h6v4h-6zM1138 1796h6v4h-6zM1155 1796h6v4h-6zM1172 1796h6v4h-6zM1189 1796h6v4h-6zM1206 1796h6v4h-6zM1223 1796h6v4h-6zM1241 1796h5v4h-5zM1258 1796h5v4h-5zM1275 1796h5v4h-5zM1292 1796h6v4h-6zM1309 1796h6v4h-6zM1326 1796h6v4h-6zM1343 1796h6v4h-6zM1360 1796h6v4h-6zM1377 1796h6v4h-6zM1394 1796h6v4h-6zM1411 1796h6v4h-6zM1428 1796h6v4h-6zM1445 1796h6v4h-6zM1462 1796h6v4h-6zM1479 1796h6v4h-6zM1497 1796h5v4h-5zM1514 1796h5v4h-5zM1531 1796h5v4h-5zM1548 1796h6v4h-6zM1565 1796h6v4h-6zM1582 1796h6v4h-6zM1599 1796h6v4h-6zM1616 1796h6v4h-6zM1633 1796h6v4h-6zM1650 1796h6v4h-6zM1667 1796h6v4h-6zM1684 1796h6v4h-6zM1701 1796h6v4h-6zM1718 1796h6v4h-6zM1735 1796h6v4h-6zM1753 1796h5v4h-5zM1770 1796h5v4h-5zM1787 1796h5v4h-5zM1804 1796h6v4h-6zM1821 1796h6v4h-6zM1838 1796h6v4h-6zM1855 1796h6v4h-6zM1872 1796h6v4h-6zM1889 1796h6v4h-6zM1906 1796h6v4h-6zM1923 1796h6v4h-6zM1940 1796h6v4h-6zM1957 1796h6v4h-6zM1974 1796h6v4h-6zM1991 1796h6v4h-6zM2009 1796h5v4h-5zM2026 1796h5v4h-5zM2043 1796h5v4h-5zM2060 1796h6v4h-6zM2077 1796h6v4h-6zM2094 1796h3v4h-3zM251 1726h5v4h-5zM268 1726h6v4h-6zM285 1726h6v4h-6zM302 1726h6v4h-6zM319 1726h6v4h-6zM336 1726h6v4h-6zM353 1726h6v4h-6zM370 1726h6v4h-6zM387 1726h6v4h-6zM404 1726h6v4h-6zM421 1726h6v4h-6zM438 1726h6v4h-6zM455 1726h6v4h-6zM473 1726h5v4h-5zM490 1726h5v4h-5zM507 1726h5v4h-5zM524 1726h6v4h-6zM541 1726h6v4h-6zM558 1726h6v4h-6zM575 1726h6v4h-6zM592 1726h6v4h-6zM609 1726h6v4h-6zM626 1726h6v4h-6zM643 1726h6v4h-6zM660 1726h6v4h-6zM677 1726h6v4h-6zM694 1726h6v4h-6zM711 1726h6v4h-6zM729 1726h5v4h-5zM746 1726h5v4h-5zM763 1726h5v4h-5zM780 1726h6v4h-6zM797 1726h6v4h-6zM814 1726h6v4h-6zM831 1726h6v4h-6zM848 1726h6v4h-6zM865 1726h6v4h-6zM882 1726h6v4h-6zM899 1726h6v4h-6zM916 1726h6v4h-6zM933 1726h6v4h-6zM950 1726h6v4h-6zM967 1726h6v4h-6zM985 1726h5v4h-5zM1002 1726h5v4h-5zM1019 1726h5v4h-5zM1036 1726h6v4h-6zM1053 1726h6v4h-6zM1070 1726h6v4h-6zM1087 1726h6v4h-6zM1104 1726h6v4h-6zM1121 1726h6v4h-6zM1138 1726h6v4h-6zM1155 1726h6v4h-6zM1172 1726h6v4h-6zM1189 1726h6v4h-6zM1206 1726h6v4h-6zM1223 1726h6v4h-6zM1241 1726h5v4h-5zM1258 1726h5v4h-5zM1275 1726h5v4h-5zM1292 1726h6v4h-6zM1309 1726h6v4h-6zM1326 1726h6v4h-6zM1343 1726h6v4h-6zM1360 1726h6v4h-6zM1377 1726h6v4h-6zM1394 1726h6v4h-6zM1411 1726h6v4h-6zM1428 1726h6v4h-6zM1445 1726h6v4h-6zM1462 1726h6v4h-6zM1479 1726h6v4h-6zM1497 1726h5v4h-5zM1514 1726h5v4h-5zM1531 1726h5v4h-5zM1548 1726h6v4h-6zM1565 1726h6v4h-6zM1582 1726h6v4h-6zM1599 1726h6v4h-6zM1616 1726h6v4h-6zM1633 1726h6v4h-6zM1650 1726h6v4h-6zM1667 1726h6v4h-6zM1684 1726h6v4h-6zM1701 1726h6v4h-6zM1718 1726h6v4h-6zM1735 1726h6v4h-6zM1753 1726h5v4h-5zM1770 1726h5v4h-5zM1787 1726h5v4h-5zM1804 1726h6v4h-6zM1821 1726h6v4h-6zM1838 1726h6v4h-6zM1855 1726h6v4h-6zM1872 1726h6v4h-6zM1889 1726h6v4h-6zM1906 1726h6v4h-6zM1923 1726h6v4h-6zM1940 1726h6v4h-6zM1957 1726h6v4h-6zM1974 1726h6v4h-6zM1991 1726h6v4h-6zM2009 1726h5v4h-5zM2026 1726h5v4h-5zM2043 1726h5v4h-5zM2060 1726h6v4h-6zM2077 1726h6v4h-6zM2094 1726h3v4h-3zM251 1676h5v4h-5zM268 1676h6v4h-6zM285 1676h6v4h-6zM302 1676h6v4h-6zM319 1676h6v4h-6zM336 1676h6v4h-6zM353 1676h6v4h-6zM370 1676h6v4h-6zM387 1676h6v4h-6zM404 1676h6v4h-6zM421 1676h6v4h-6zM438 1676h6v4h-6zM455 1676h6v4h-6zM473 1676h5v4h-5zM490 1676h5v4h-5zM507 1676h5v4h-5zM524 1676h6v4h-6zM541 1676h6v4h-6zM558 1676h6v4h-6zM575 1676h6v4h-6zM592 1676h6v4h-6zM609 1676h6v4h-6zM626 1676h6v4h-6zM643 1676h6v4h-6zM660 1676h6v4h-6zM677 1676h6v4h-6zM694 1676h6v4h-6zM711 1676h6v4h-6zM729 1676h5v4h-5zM746 1676h5v4h-5zM763 1676h5v4h-5zM780 1676h6v4h-6zM797 1676h6v4h-6zM814 1676h6v4h-6zM831 1676h6v4h-6zM848 1676h6v4h-6zM865 1676h6v4h-6zM882 1676h6v4h-6zM899 1676h6v4h-6zM916 1676h6v4h-6zM933 1676h6v4h-6zM950 1676h6v4h-6zM967 1676h6v4h-6zM985 1676h5v4h-5zM1002 1676h5v4h-5zM1019 1676h5v4h-5zM1036 1676h6v4h-6zM1053 1676h6v4h-6zM1070 1676h6v4h-6zM1087 1676h6v4h-6zM1104 1676h6v4h-6zM1121 1676h6v4h-6zM1138 1676h6v4h-6zM1155 1676h6v4h-6zM1172 1676h6v4h-6zM1189 1676h6v4h-6zM1206 1676h6v4h-6zM1223 1676h6v4h-6zM1241 1676h5v4h-5zM1258 1676h5v4h-5zM1275 1676h5v4h-5zM1292 1676h6v4h-6zM1309 1676h6v4h-6zM1326 1676h6v4h-6zM1343 1676h6v4h-6zM1360 1676h6v4h-6zM1377 1676h6v4h-6zM1394 1676h6v4h-6zM1411 1676h6v4h-6zM1428 1676h6v4h-6zM1445 1676h6v4h-6zM1462 1676h6v4h-6zM1479 1676h6v4h-6zM1497 1676h5v4h-5zM1514 1676h5v4h-5zM1531 1676h5v4h-5zM1548 1676h6v4h-6zM1565 1676h6v4h-6zM1582 1676h6v4h-6zM1599 1676h6v4h-6zM1616 1676h6v4h-6zM1633 1676h6v4h-6zM1650 1676h6v4h-6zM1667 1676h6v4h-6zM1684 1676h6v4h-6zM1701 1676h6v4h-6zM1718 1676h6v4h-6zM1735 1676h6v4h-6zM1753 1676h5v4h-5zM1770 1676h5v4h-5zM1787 1676h5v4h-5zM1804 1676h6v4h-6zM1821 1676h6v4h-6zM1838 1676h6v4h-6zM1855 1676h6v4h-6zM1872 1676h6v4h-6zM1889 1676h6v4h-6zM1906 1676h6v4h-6zM1923 1676h6v4h-6zM1940 1676h6v4h-6zM1957 1676h6v4h-6zM1974 1676h6v4h-6zM1991 1676h6v4h-6zM2009 1676h5v4h-5zM2026 1676h5v4h-5zM2043 1676h5v4h-5zM2060 1676h6v4h-6zM2077 1676h6v4h-6zM2094 1676h3v4h-3zM251 1638h5v4h-5zM268 1638h6v4h-6zM285 1638h6v4h-6zM302 1638h6v4h-6zM319 1638h6v4h-6zM336 1638h6v4h-6zM353 1638h6v4h-6zM370 1638h6v4h-6zM387 1638h6v4h-6zM404 1638h6v4h-6zM421 1638h6v4h-6zM438 1638h6v4h-6zM455 1638h6v4h-6zM473 1638h5v4h-5zM490 1638h5v4h-5zM507 1638h5v4h-5zM524 1638h6v4h-6zM541 1638h6v4h-6zM558 1638h6v4h-6zM575 1638h6v4h-6zM592 1638h6v4h-6zM609 1638h6v4h-6zM626 1638h6v4h-6zM643 1638h6v4h-6zM660 1638h6v4h-6zM677 1638h6v4h-6zM694 1638h6v4h-6zM711 1638h6v4h-6zM729 1638h5v4h-5zM746 1638h5v4h-5zM763 1638h5v4h-5zM780 1638h6v4h-6zM797 1638h6v4h-6zM814 1638h6v4h-6zM831 1638h6v4h-6zM848 1638h6v4h-6zM865 1638h6v4h-6zM882 1638h6v4h-6zM899 1638h6v4h-6zM916 1638h6v4h-6zM933 1638h6v4h-6zM950 1638h6v4h-6zM967 1638h6v4h-6zM985 1638h5v4h-5zM1002 1638h5v4h-5zM1019 1638h5v4h-5zM1036 1638h6v4h-6zM1053 1638h6v4h-6zM1070 1638h6v4h-6zM1087 1638h6v4h-6zM1104 1638h6v4h-6zM1121 1638h6v4h-6zM1138 1638h6v4h-6zM1155 1638h6v4h-6zM1172 1638h6v4h-6zM1189 1638h6v4h-6zM1206 1638h6v4h-6zM1223 1638h6v4h-6zM1241 1638h5v4h-5zM1258 1638h5v4h-5zM1275 1638h5v4h-5zM1292 1638h6v4h-6zM1309 1638h6v4h-6zM1326 1638h6v4h-6zM1343 1638h6v4h-6zM1360 1638h6v4h-6zM1377 1638h6v4h-6zM1394 1638h6v4h-6zM1411 1638h6v4h-6zM1428 1638h6v4h-6zM1445 1638h6v4h-6zM1462 1638h6v4h-6zM1479 1638h6v4h-6zM1497 1638h5v4h-5zM1514 1638h5v4h-5zM1531 1638h5v4h-5zM1548 1638h6v4h-6zM1565 1638h6v4h-6zM1582 1638h6v4h-6zM1599 1638h6v4h-6zM1616 1638h6v4h-6zM1633 1638h6v4h-6zM1650 1638h6v4h-6zM1667 1638h6v4h-6zM1684 1638h6v4h-6zM1701 1638h6v4h-6zM1718 1638h6v4h-6zM1735 1638h6v4h-6zM1753 1638h5v4h-5zM1770 1638h5v4h-5zM1787 1638h5v4h-5zM1804 1638h6v4h-6zM1821 1638h6v4h-6zM1838 1638h6v4h-6zM1855 1638h6v4h-6zM1872 1638h6v4h-6zM1889 1638h6v4h-6zM1906 1638h6v4h-6zM1923 1638h6v4h-6zM1940 1638h6v4h-6zM1957 1638h6v4h-6zM1974 1638h6v4h-6zM1991 1638h6v4h-6zM2009 1638h5v4h-5zM2026 1638h5v4h-5zM2043 1638h5v4h-5zM2060 1638h6v4h-6zM2077 1638h6v4h-6zM2094 1638h3v4h-3zM251 1606h5v4h-5zM268 1606h6v4h-6zM285 1606h6v4h-6zM302 1606h6v4h-6zM319 1606h6v4h-6zM336 1606h6v4h-6zM353 1606h6v4h-6zM370 1606h6v4h-6zM387 1606h6v4h-6zM404 1606h6v4h-6zM421 1606h6v4h-6zM438 1606h6v4h-6zM455 1606h6v4h-6zM473 1606h5v4h-5zM490 1606h5v4h-5zM507 1606h5v4h-5zM524 1606h6v4h-6zM541 1606h6v4h-6zM558 1606h6v4h-6zM575 1606h6v4h-6zM592 1606h6v4h-6zM609 1606h6v4h-6zM626 1606h6v4h-6zM643 1606h6v4h-6zM660 1606h6v4h-6zM677 1606h6v4h-6zM694 1606h6v4h-6zM711 1606h6v4h-6zM729 1606h5v4h-5zM746 1606h5v4h-5zM763 1606h5v4h-5zM780 1606h6v4h-6zM797 1606h6v4h-6zM814 1606h6v4h-6zM831 1606h6v4h-6zM848 1606h6v4h-6zM865 1606h6v4h-6zM882 1606h6v4h-6zM899 1606h6v4h-6zM916 1606h6v4h-6zM933 1606h6v4h-6zM950 1606h6v4h-6zM967 1606h6v4h-6zM985 1606h5v4h-5zM1002 1606h5v4h-5zM1019 1606h5v4h-5zM1036 1606h6v4h-6zM1053 1606h6v4h-6zM1070 1606h6v4h-6zM1087 1606h6v4h-6zM1104 1606h6v4h-6zM1121 1606h6v4h-6zM1138 1606h6v4h-6zM1155 1606h6v4h-6zM1172 1606h6v4h-6zM1189 1606h6v4h-6zM1206 1606h6v4h-6zM1223 1606h6v4h-6zM1241 1606h5v4h-5zM1258 1606h5v4h-5zM1275 1606h5v4h-5zM1292 1606h6v4h-6zM1309 1606h6v4h-6zM1326 1606h6v4h-6zM1343 1606h6v4h-6zM1360 1606h6v4h-6zM1377 1606h6v4h-6zM1394 1606h6v4h-6zM1411 1606h6v4h-6zM1428 1606h6v4h-6zM1445 1606h6v4h-6zM1462 1606h6v4h-6zM1479 1606h6v4h-6zM1497 1606h5v4h-5zM1514 1606h5v4h-5zM1531 1606h5v4h-5zM1548 1606h6v4h-6zM1565 1606h6v4h-6zM1582 1606h6v4h-6zM1599 1606h6v4h-6zM1616 1606h6v4h-6zM1633 1606h6v4h-6zM1650 1606h6v4h-6zM1667 1606h6v4h-6zM1684 1606h6v4h-6zM1701 1606h6v4h-6zM1718 1606h6v4h-6zM1735 1606h6v4h-6zM1753 1606h5v4h-5zM1770 1606h5v4h-5zM1787 1606h5v4h-5zM1804 1606h6v4h-6zM1821 1606h6v4h-6zM1838 1606h6v4h-6zM1855 1606h6v4h-6zM1872 1606h6v4h-6zM1889 1606h6v4h-6zM1906 1606h6v4h-6zM1923 1606h6v4h-6zM1940 1606h6v4h-6zM1957 1606h6v4h-6zM1974 1606h6v4h-6zM1991 1606h6v4h-6zM2009 1606h5v4h-5zM2026 1606h5v4h-5zM2043 1606h5v4h-5zM2060 1606h6v4h-6zM2077 1606h6v4h-6zM2094 1606h3v4h-3zM251 1580h5v4h-5zM268 1580h6v4h-6zM285 1580h6v4h-6zM302 1580h6v4h-6zM319 1580h6v4h-6zM336 1580h6v4h-6zM353 1580h6v4h-6zM370 1580h6v4h-6zM387 1580h6v4h-6zM404 1580h6v4h-6zM421 1580h6v4h-6zM438 1580h6v4h-6zM455 1580h6v4h-6zM473 1580h5v4h-5zM490 1580h5v4h-5zM507 1580h5v4h-5zM524 1580h6v4h-6zM541 1580h6v4h-6zM558 1580h6v4h-6zM575 1580h6v4h-6zM592 1580h6v4h-6zM609 1580h6v4h-6zM626 1580h6v4h-6zM643 1580h6v4h-6zM660 1580h6v4h-6zM677 1580h6v4h-6zM694 1580h6v4h-6zM711 1580h6v4h-6zM729 1580h5v4h-5zM746 1580h5v4h-5zM763 1580h5v4h-5zM780 1580h6v4h-6zM797 1580h6v4h-6zM814 1580h6v4h-6zM831 1580h6v4h-6zM848 1580h6v4h-6zM865 1580h6v4h-6zM882 1580h6v4h-6zM899 1580h6v4h-6zM916 1580h6v4h-6zM933 1580h6v4h-6zM950 1580h6v4h-6zM967 1580h6v4h-6zM985 1580h5v4h-5zM1002 1580h5v4h-5zM1019 1580h5v4h-5zM1036 1580h6v4h-6zM1053 1580h6v4h-6zM1070 1580h6v4h-6zM1087 1580h6v4h-6zM1104 1580h6v4h-6zM1121 1580h6v4h-6zM1138 1580h6v4h-6zM1155 1580h6v4h-6zM1172 1580h6v4h-6zM1189 1580h6v4h-6zM1206 1580h6v4h-6zM1223 1580h6v4h-6zM1241 1580h5v4h-5zM1258 1580h5v4h-5zM1275 1580h5v4h-5zM1292 1580h6v4h-6zM1309 1580h6v4h-6zM1326 1580h6v4h-6zM1343 1580h6v4h-6zM1360 1580h6v4h-6zM1377 1580h6v4h-6zM1394 1580h6v4h-6zM1411 1580h6v4h-6zM1428 1580h6v4h-6zM1445 1580h6v4h-6zM1462 1580h6v4h-6zM1479 1580h6v4h-6zM1497 1580h5v4h-5zM1514 1580h5v4h-5zM1531 1580h5v4h-5zM1548 1580h6v4h-6zM1565 1580h6v4h-6zM1582 1580h6v4h-6zM1599 1580h6v4h-6zM1616 1580h6v4h-6zM1633 1580h6v4h-6zM1650 1580h6v4h-6zM1667 1580h6v4h-6zM1684 1580h6v4h-6zM1701 1580h6v4h-6zM1718 1580h6v4h-6zM1735 1580h6v4h-6zM1753 1580h5v4h-5zM1770 1580h5v4h-5zM1787 1580h5v4h-5zM1804 1580h6v4h-6zM1821 1580h6v4h-6zM1838 1580h6v4h-6zM1855 1580h6v4h-6zM1872 1580h6v4h-6zM1889 1580h6v4h-6zM1906 1580h6v4h-6zM1923 1580h6v4h-6zM1940 1580h6v4h-6zM1957 1580h6v4h-6zM1974 1580h6v4h-6zM1991 1580h6v4h-6zM2009 1580h5v4h-5zM2026 1580h5v4h-5zM2043 1580h5v4h-5zM2060 1580h6v4h-6zM2077 1580h6v4h-6zM2094 1580h3v4h-3zM251 1557h5v4h-5zM268 1557h6v4h-6zM285 1557h6v4h-6zM302 1557h6v4h-6zM319 1557h6v4h-6zM336 1557h6v4h-6zM353 1557h6v4h-6zM370 1557h6v4h-6zM387 1557h6v4h-6zM404 1557h6v4h-6zM421 1557h6v4h-6zM438 1557h6v4h-6zM455 1557h6v4h-6zM473 1557h5v4h-5zM490 1557h5v4h-5zM507 1557h5v4h-5zM524 1557h6v4h-6zM541 1557h6v4h-6zM558 1557h6v4h-6zM575 1557h6v4h-6zM592 1557h6v4h-6zM609 1557h6v4h-6zM626 1557h6v4h-6zM643 1557h6v4h-6zM660 1557h6v4h-6zM677 1557h6v4h-6zM694 1557h6v4h-6zM711 1557h6v4h-6zM729 1557h5v4h-5zM746 1557h5v4h-5zM763 1557h5v4h-5zM780 1557h6v4h-6zM797 1557h6v4h-6zM814 1557h6v4h-6zM831 1557h6v4h-6zM848 1557h6v4h-6zM865 1557h6v4h-6zM882 1557h6v4h-6zM899 1557h6v4h-6zM916 1557h6v4h-6zM933 1557h6v4h-6zM950 1557h6v4h-6zM967 1557h6v4h-6zM985 1557h5v4h-5zM1002 1557h5v4h-5zM1019 1557h5v4h-5zM1036 1557h6v4h-6zM1053 1557h6v4h-6zM1070 1557h6v4h-6zM1087 1557h6v4h-6zM1104 1557h6v4h-6zM1121 1557h6v4h-6zM1138 1557h6v4h-6zM1155 1557h6v4h-6zM1172 1557h6v4h-6zM1189 1557h6v4h-6zM1206 1557h6v4h-6zM1223 1557h6v4h-6zM1241 1557h5v4h-5zM1258 1557h5v4h-5zM1275 1557h5v4h-5zM1292 1557h6v4h-6zM1309 1557h6v4h-6zM1326 1557h6v4h-6zM1343 1557h6v4h-6zM1360 1557h6v4h-6zM1377 1557h6v4h-6zM1394 1557h6v4h-6zM1411 1557h6v4h-6zM1428 1557h6v4h-6zM1445 1557h6v4h-6zM1462 1557h6v4h-6zM1479 1557h6v4h-6zM1497 1557h5v4h-5zM1514 1557h5v4h-5zM1531 1557h5v4h-5zM1548 1557h6v4h-6zM1565 1557h6v4h-6zM1582 1557h6v4h-6zM1599 1557h6v4h-6zM1616 1557h6v4h-6zM1633 1557h6v4h-6zM1650 1557h6v4h-6zM1667 1557h6v4h-6zM1684 1557h6v4h-6zM1701 1557h6v4h-6zM1718 1557h6v4h-6zM1735 1557h6v4h-6zM1753 1557h5v4h-5zM1770 1557h5v4h-5zM1787 1557h5v4h-5zM1804 1557h6v4h-6zM1821 1557h6v4h-6zM1838 1557h6v4h-6zM1855 1557h6v4h-6zM1872 1557h6v4h-6zM1889 1557h6v4h-6zM1906 1557h6v4h-6zM1923 1557h6v4h-6zM1940 1557h6v4h-6zM1957 1557h6v4h-6zM1974 1557h6v4h-6zM1991 1557h6v4h-6zM2009 1557h5v4h-5zM2026 1557h5v4h-5zM2043 1557h5v4h-5zM2060 1557h6v4h-6zM2077 1557h6v4h-6zM2094 1557h3v4h-3zM251 1536h5v4h-5zM268 1536h6v4h-6zM285 1536h6v4h-6zM302 1536h6v4h-6zM319 1536h6v4h-6zM336 1536h6v4h-6zM353 1536h6v4h-6zM370 1536h6v4h-6zM387 1536h6v4h-6zM404 1536h6v4h-6zM421 1536h6v4h-6zM438 1536h6v4h-6zM455 1536h6v4h-6zM473 1536h5v4h-5zM490 1536h5v4h-5zM507 1536h5v4h-5zM524 1536h6v4h-6zM541 1536h6v4h-6zM558 1536h6v4h-6zM575 1536h6v4h-6zM592 1536h6v4h-6zM609 1536h6v4h-6zM626 1536h6v4h-6zM643 1536h6v4h-6zM660 1536h6v4h-6zM677 1536h6v4h-6zM694 1536h6v4h-6zM711 1536h6v4h-6zM729 1536h5v4h-5zM746 1536h5v4h-5zM763 1536h5v4h-5zM780 1536h6v4h-6zM797 1536h6v4h-6zM814 1536h6v4h-6zM831 1536h6v4h-6zM848 1536h6v4h-6zM865 1536h6v4h-6zM882 1536h6v4h-6zM899 1536h6v4h-6zM916 1536h6v4h-6zM933 1536h6v4h-6zM950 1536h6v4h-6zM967 1536h6v4h-6zM985 1536h5v4h-5zM1002 1536h5v4h-5zM1019 1536h5v4h-5zM1036 1536h6v4h-6zM1053 1536h6v4h-6zM1070 1536h6v4h-6zM1087 1536h6v4h-6zM1104 1536h6v4h-6zM1121 1536h6v4h-6zM1138 1536h6v4h-6zM1155 1536h6v4h-6zM1172 1536h6v4h-6zM1189 1536h6v4h-6zM1206 1536h6v4h-6zM1223 1536h6v4h-6zM1241 1536h5v4h-5zM1258 1536h5v4h-5zM1275 1536h5v4h-5zM1292 1536h6v4h-6zM1309 1536h6v4h-6zM1326 1536h6v4h-6zM1343 1536h6v4h-6zM1360 1536h6v4h-6zM1377 1536h6v4h-6zM1394 1536h6v4h-6zM1411 1536h6v4h-6zM1428 1536h6v4h-6zM1445 1536h6v4h-6zM1462 1536h6v4h-6zM1479 1536h6v4h-6zM1497 1536h5v4h-5zM1514 1536h5v4h-5zM1531 1536h5v4h-5zM1548 1536h6v4h-6zM1565 1536h6v4h-6zM1582 1536h6v4h-6zM1599 1536h6v4h-6zM1616 1536h6v4h-6zM1633 1536h6v4h-6zM1650 1536h6v4h-6zM1667 1536h6v4h-6zM1684 1536h6v4h-6zM1701 1536h6v4h-6zM1718 1536h6v4h-6zM1735 1536h6v4h-6zM1753 1536h5v4h-5zM1770 1536h5v4h-5zM1787 1536h5v4h-5zM1804 1536h6v4h-6zM1821 1536h6v4h-6zM1838 1536h6v4h-6zM1855 1536h6v4h-6zM1872 1536h6v4h-6zM1889 1536h6v4h-6zM1906 1536h6v4h-6zM1923 1536h6v4h-6zM1940 1536h6v4h-6zM1957 1536h6v4h-6zM1974 1536h6v4h-6zM1991 1536h6v4h-6zM2009 1536h5v4h-5zM2026 1536h5v4h-5zM2043 1536h5v4h-5zM2060 1536h6v4h-6zM2077 1536h6v4h-6zM2094 1536h3v4h-3z" fill="#c6c6c6"/>
<path class="c" d="M419 1897h4v19h-4z M419 111h4v19h-4z M605 1897h4v19h-4z M605 111h4v19h-4z M792 1897h4v19h-4z M792 111h4v19h-4z M978 1897h4v19h-4z M978 111h4v19h-4z M1165 1897h4v19h-4z M1165 111h4v19h-4z M1351 1897h4v19h-4z M1351 111h4v19h-4z M1538 1897h3v19h-3z M1538 111h3v19h-3z M1724 1897h4v19h-4z M1724 111h4v19h-4z M1910 1897h4v19h-4z M1910 111h4v19h-4z M236 324h19v4h-19z M2078 324h19v4h-19z M236 722h19v4h-19z M2078 722h19v4h-19z M236 1120h19v4h-19z M2078 1120h19v4h-19z M236 1518h19v4h-19z M2078 1518h19v4h-19z M236 204h10v4h-10z M2087 204h10v4h-10z M236 134h10v4h-10z M2087 134h10v4h-10z M236 602h10v4h-10z M2087 602h10v4h-10z M236 532h10v4h-10z M2087 532h10v4h-10z M236 482h10v4h-10z M2087 482h10v4h-10z M236 444h10v4h-10z M2087 444h10v4h-10z M236 412h10v4h-10z M2087 412h10v4h-10z M236 386h10v4h-10z M2087 386h10v4h-10z M236 363h10v4h-10z M2087 363h10v4h-10z M236 342h10v4h-10z M2087 342h10v4h-10z M236 1000h10v4h-10z M2087 1000h10v4h-10z M236 930h10v4h-10z M2087 930h10v4h-10z M236 880h10v4h-10z M2087 880h10v4h-10z M236 842h10v4h-10z M2087 842h10v4h-10z M236 810h10v4h-10z M2087 810h10v4h-10z M236 784h10v4h-10z M2087 784h10v4h-10z M236 761h10v4h-10z M2087 761h10v4h-10z M236 740h10v4h-10z M2087 740h10v4h-10z M236 1398h10v4h-10z M2087 1398h10v4h-10z M236 1328h10v4h-10z M2087 1328h10v4h-10z M236 1278h10v4h-10z M2087 1278h10v4h-10z M236 1240h10v4h-10z M2087 1240h10v4h-10z M236 1208h10v4h-10z M2087 1208h10v4h-10z M236 1182h10v4h-10z M2087 1182h10v4h-10z M236 1159h10v4h-10z M2087 1159h10v4h-10z M236 1138h10v4h-10z M2087 1138h10v4h-10z M236 1796h10v4h-10z M2087 1796h10v4h-10z M236 1726h10v4h-10z M2087 1726h10v4h-10z M236 1676h10v4h-10z M2087 1676h10v4h-10z M236 1638h10v4h-10z M2087 1638h10v4h-10z M236 1606h10v4h-10z M2087 1606h10v4h-10z M236 1580h10v4h-10z M2087 1580h10v4h-10z M236 1557h10v4h-10z M2087 1557h10v4h-10z M236 1536h10v4h-10z M2087 1536h10v4h-10z M232 108H2101V1920H232zM236 111V1916H2097V111z" fill="#262626" fill-rule="evenodd"/>
<text transform="translate(420.5 2001) scale(1 1.015)" font-size="56.25" fill="#262626" text-anchor="middle">-5</text>
<text transform="translate(607 2001) scale(1 1.015)" font-size="56.25" fill="#262626" text-anchor="middle">0</text>
<text transform="translate(793.5 2001) scale(1 1.015)" font-size="56.25" fill="#262626" text-anchor="middle">5</text>
<text transform="translate(980 2001) scale(1 1.015)" font-size="56.25" fill="#262626" text-anchor="middle">10</text>
<text transform="translate(1166.5 2001) scale(1 1.015)" font-size="56.25" fill="#262626" text-anchor="middle">15</text>
<text transform="translate(1353 2001) scale(1 1.015)" font-size="56.25" fill="#262626" text-anchor="middle">20</text>
<text transform="translate(1539.5 2001) scale(1 1.015)" font-size="56.25" fill="#262626" text-anchor="middle">25</text>
<text transform="translate(1726 2001) scale(1 1.015)" font-size="56.25" fill="#262626" text-anchor="middle">30</text>
<text transform="translate(1912.5 2001) scale(1 1.015)" font-size="56.25" fill="#262626" text-anchor="middle">35</text>
<text transform="translate(2099 2001) scale(1 1.015)" font-size="56.25" fill="#262626" text-anchor="middle">40</text>
<text transform="translate(107 360) scale(1 1.015)" font-size="56.25" fill="#262626">10<tspan font-size="46.2" dx="0" dy="-24.6" letter-spacing="1.5">-1</tspan></text>
<text transform="translate(107 758) scale(1 1.015)" font-size="56.25" fill="#262626">10<tspan font-size="46.2" dx="0" dy="-24.6" letter-spacing="1.5">-2</tspan></text>
<text transform="translate(107 1156) scale(1 1.015)" font-size="56.25" fill="#262626">10<tspan font-size="46.2" dx="0" dy="-24.6" letter-spacing="1.5">-3</tspan></text>
<text transform="translate(107 1554) scale(1 1.015)" font-size="56.25" fill="#262626">10<tspan font-size="46.2" dx="0" dy="-24.6" letter-spacing="1.5">-4</tspan></text>
<text transform="translate(107 1952) scale(1 1.015)" font-size="56.25" fill="#262626">10<tspan font-size="46.2" dx="0" dy="-24.6" letter-spacing="1.5">-5</tspan></text>
<g class="c">
<path d="M234 212.9 L420.5 481.7 L607 814 L793.5 947.5 L980 1075.4 L1166.5 1168.7 L1353 1254.3 L1539.5 1356 L1726 1458.2 L1912.5 1565.3 L2099 1650.9" fill="none" stroke="#ff0000" stroke-width="9.5" stroke-linejoin="round"/>
<polygon points="232.3,196.2 236.56,208.03 249.13,208.43 239.2,216.14 242.7,228.22 232.3,221.15 221.9,228.22 225.4,216.14 215.47,208.43 228.04,208.03" fill="none" stroke="#ff0000" stroke-width="9.6" stroke-miterlimit="10"/>
<polygon points="420,465 424.26,476.83 436.83,477.23 426.9,484.94 430.4,497.02 420,489.95 409.6,497.02 413.1,484.94 403.17,477.23 415.74,476.83" fill="none" stroke="#ff0000" stroke-width="9.6" stroke-miterlimit="10"/>
<polygon points="608,797.3 612.26,809.13 624.83,809.53 614.9,817.24 618.4,829.32 608,822.25 597.6,829.32 601.1,817.24 591.17,809.53 603.74,809.13" fill="none" stroke="#ff0000" stroke-width="9.6" stroke-miterlimit="10"/>
<polygon points="795,930.8 799.26,942.63 811.83,943.03 801.9,950.74 805.4,962.82 795,955.75 784.6,962.82 788.1,950.74 778.17,943.03 790.74,942.63" fill="none" stroke="#ff0000" stroke-width="9.6" stroke-miterlimit="10"/>
<polygon points="979,1058.7 983.26,1070.53 995.83,1070.93 985.9,1078.64 989.4,1090.72 979,1083.65 968.6,1090.72 972.1,1078.64 962.17,1070.93 974.74,1070.53" fill="none" stroke="#ff0000" stroke-width="9.6" stroke-miterlimit="10"/>
<polygon points="1166.6,1152 1170.86,1163.83 1183.43,1164.23 1173.5,1171.94 1177,1184.02 1166.6,1176.95 1156.2,1184.02 1159.7,1171.94 1149.77,1164.23 1162.34,1163.83" fill="none" stroke="#ff0000" stroke-width="9.6" stroke-miterlimit="10"/>
<polygon points="1354.4,1237.6 1358.66,1249.43 1371.23,1249.83 1361.3,1257.54 1364.8,1269.62 1354.4,1262.55 1344,1269.62 1347.5,1257.54 1337.57,1249.83 1350.14,1249.43" fill="none" stroke="#ff0000" stroke-width="9.6" stroke-miterlimit="10"/>
<polygon points="1538.1,1339.3 1542.36,1351.13 1554.93,1351.53 1545,1359.24 1548.5,1371.32 1538.1,1364.25 1527.7,1371.32 1531.2,1359.24 1521.27,1351.53 1533.84,1351.13" fill="none" stroke="#ff0000" stroke-width="9.6" stroke-miterlimit="10"/>
<polygon points="1725.8,1441.5 1730.06,1453.33 1742.63,1453.73 1732.7,1461.44 1736.2,1473.52 1725.8,1466.45 1715.4,1473.52 1718.9,1461.44 1708.97,1453.73 1721.54,1453.33" fill="none" stroke="#ff0000" stroke-width="9.6" stroke-miterlimit="10"/>
<polygon points="1913.1,1548.6 1917.36,1560.43 1929.93,1560.83 1920,1568.54 1923.5,1580.62 1913.1,1573.55 1902.7,1580.62 1906.2,1568.54 1896.27,1560.83 1908.84,1560.43" fill="none" stroke="#ff0000" stroke-width="9.6" stroke-miterlimit="10"/>
<polygon points="2101,1634.2 2105.26,1646.03 2117.83,1646.43 2107.9,1654.14 2111.4,1666.22 2101,1659.15 2090.6,1666.22 2094.1,1654.14 2084.17,1646.43 2096.74,1646.03" fill="none" stroke="#ff0000" stroke-width="9.6" stroke-miterlimit="10"/>
<path d="M234 163.1 L420.5 389.05 L607 760 L793.5 930 L980 1054.7 L1166.5 1145.7 L1353 1238 L1539.5 1334 L1726 1429 L1912.5 1530.3 L2099 1630" fill="none" stroke="#ff0000" stroke-width="9.5" stroke-linejoin="round" stroke-dasharray="36.2 32.07"/>
<path d="M212.5 163.1H252.1 M232.3 143.3V182.9 M217.45 148.25L247.15 177.95 M217.45 177.95L247.15 148.25" fill="none" stroke="#ff0000" stroke-width="9.6"/>
<path d="M400.2 389.05H439.8 M420 369.25V408.85 M405.15 374.2L434.85 403.9 M405.15 403.9L434.85 374.2" fill="none" stroke="#ff0000" stroke-width="9.6"/>
<path d="M588.2 760H627.8 M608 740.2V779.8 M593.15 745.15L622.85 774.85 M593.15 774.85L622.85 745.15" fill="none" stroke="#ff0000" stroke-width="9.6"/>
<path d="M775.2 930H814.8 M795 910.2V949.8 M780.15 915.15L809.85 944.85 M780.15 944.85L809.85 915.15" fill="none" stroke="#ff0000" stroke-width="9.6"/>
<path d="M959.2 1054.7H998.8 M979 1034.9V1074.5 M964.15 1039.85L993.85 1069.55 M964.15 1069.55L993.85 1039.85" fill="none" stroke="#ff0000" stroke-width="9.6"/>
<path d="M1146.8 1145.7H1186.4 M1166.6 1125.9V1165.5 M1151.75 1130.85L1181.45 1160.55 M1151.75 1160.55L1181.45 1130.85" fill="none" stroke="#ff0000" stroke-width="9.6"/>
<path d="M1334.6 1238H1374.2 M1354.4 1218.2V1257.8 M1339.55 1223.15L1369.25 1252.85 M1339.55 1252.85L1369.25 1223.15" fill="none" stroke="#ff0000" stroke-width="9.6"/>
<path d="M1518.3 1334H1557.9 M1538.1 1314.2V1353.8 M1523.25 1319.15L1552.95 1348.85 M1523.25 1348.85L1552.95 1319.15" fill="none" stroke="#ff0000" stroke-width="9.6"/>
<path d="M1706 1429H1745.6 M1725.8 1409.2V1448.8 M1710.95 1414.15L1740.65 1443.85 M1710.95 1443.85L1740.65 1414.15" fill="none" stroke="#ff0000" stroke-width="9.6"/>
<path d="M1893.3 1530.3H1932.9 M1913.1 1510.5V1550.1 M1898.25 1515.45L1927.95 1545.15 M1898.25 1545.15L1927.95 1515.45" fill="none" stroke="#ff0000" stroke-width="9.6"/>
<path d="M2081.2 1630H2120.8 M2101 1610.2V1649.8 M2086.15 1615.15L2115.85 1644.85 M2086.15 1644.85L2115.85 1615.15" fill="none" stroke="#ff0000" stroke-width="9.6"/>
<path d="M234 128.9 L420.5 350.5 L607 716.7 L793.5 888 L980 1020.6 L1166.5 1123.1 L1353 1216.4 L1539.5 1314.9 L1726 1413.1 L1912.5 1510.8 L2099 1608.5" fill="none" stroke="#000000" stroke-width="9.5" stroke-linejoin="round"/>
<circle cx="232.3" cy="128.9" r="16.2" fill="none" stroke="#000000" stroke-width="9.6"/>
<circle cx="420" cy="350.5" r="16.2" fill="none" stroke="#000000" stroke-width="9.6"/>
<circle cx="608" cy="716.7" r="16.2" fill="none" stroke="#000000" stroke-width="9.6"/>
<circle cx="795" cy="888" r="16.2" fill="none" stroke="#000000" stroke-width="9.6"/>
<circle cx="979" cy="1020.6" r="16.2" fill="none" stroke="#000000" stroke-width="9.6"/>
<circle cx="1166.6" cy="1123.1" r="16.2" fill="none" stroke="#000000" stroke-width="9.6"/>
<circle cx="1354.4" cy="1216.4" r="16.2" fill="none" stroke="#000000" stroke-width="9.6"/>
<circle cx="1538.1" cy="1314.9" r="16.2" fill="none" stroke="#000000" stroke-width="9.6"/>
<circle cx="1725.8" cy="1413.1" r="16.2" fill="none" stroke="#000000" stroke-width="9.6"/>
<circle cx="1913.1" cy="1510.8" r="16.2" fill="none" stroke="#000000" stroke-width="9.6"/>
<circle cx="2101" cy="1608.5" r="16.2" fill="none" stroke="#000000" stroke-width="9.6"/>
<path d="M235.26 109.5 L420.5 256.45 L607 531.7 L793.5 824 L980 986.6 L1166.5 1084 L1353 1177.9 L1539.5 1276.5 L1726 1369.8 L1912.5 1446.8 L2099 1528" fill="none" stroke="#000000" stroke-width="9.5" stroke-linejoin="round" stroke-dasharray="36.2 32.07"/>
<path d="M405.15 241.6L434.85 271.3 M405.15 271.3L434.85 241.6" fill="none" stroke="#000000" stroke-width="9.6"/>
<path d="M593.15 516.85L622.85 546.55 M593.15 546.55L622.85 516.85" fill="none" stroke="#000000" stroke-width="9.6"/>
<path d="M780.15 809.15L809.85 838.85 M780.15 838.85L809.85 809.15" fill="none" stroke="#000000" stroke-width="9.6"/>
<path d="M964.15 971.75L993.85 1001.45 M964.15 1001.45L993.85 971.75" fill="none" stroke="#000000" stroke-width="9.6"/>
<path d="M1151.75 1069.15L1181.45 1098.85 M1151.75 1098.85L1181.45 1069.15" fill="none" stroke="#000000" stroke-width="9.6"/>
<path d="M1339.55 1163.05L1369.25 1192.75 M1339.55 1192.75L1369.25 1163.05" fill="none" stroke="#000000" stroke-width="9.6"/>
<path d="M1523.25 1261.65L1552.95 1291.35 M1523.25 1291.35L1552.95 1261.65" fill="none" stroke="#000000" stroke-width="9.6"/>
<path d="M1710.95 1354.95L1740.65 1384.65 M1710.95 1384.65L1740.65 1354.95" fill="none" stroke="#000000" stroke-width="9.6"/>
<path d="M1898.25 1431.95L1927.95 1461.65 M1898.25 1461.65L1927.95 1431.95" fill="none" stroke="#000000" stroke-width="9.6"/>
<path d="M2086.15 1513.15L2115.85 1542.85 M2086.15 1542.85L2115.85 1513.15" fill="none" stroke="#000000" stroke-width="9.6"/>
<path d="M239.99 109.5 L420.5 205.9 L607 371.95 L793.5 695.95 L980 956 L1166.5 1037 L1353 1130.8 L1539.5 1216.5 L1726 1318.9 L1912.5 1399.95 L2099 1494.1" fill="none" stroke="#0000ff" stroke-width="9.5" stroke-linejoin="round"/>
<rect x="406.8" y="192.7" width="26.4" height="26.4" fill="none" stroke="#0000ff" stroke-width="9.6"/>
<rect x="594.8" y="358.75" width="26.4" height="26.4" fill="none" stroke="#0000ff" stroke-width="9.6"/>
<rect x="781.8" y="682.75" width="26.4" height="26.4" fill="none" stroke="#0000ff" stroke-width="9.6"/>
<rect x="965.8" y="942.8" width="26.4" height="26.4" fill="none" stroke="#0000ff" stroke-width="9.6"/>
<rect x="1153.4" y="1023.8" width="26.4" height="26.4" fill="none" stroke="#0000ff" stroke-width="9.6"/>
<rect x="1341.2" y="1117.6" width="26.4" height="26.4" fill="none" stroke="#0000ff" stroke-width="9.6"/>
<rect x="1524.9" y="1203.3" width="26.4" height="26.4" fill="none" stroke="#0000ff" stroke-width="9.6"/>
<rect x="1712.6" y="1305.7" width="26.4" height="26.4" fill="none" stroke="#0000ff" stroke-width="9.6"/>
<rect x="1899.9" y="1386.75" width="26.4" height="26.4" fill="none" stroke="#0000ff" stroke-width="9.6"/>
<rect x="2087.8" y="1480.9" width="26.4" height="26.4" fill="none" stroke="#0000ff" stroke-width="9.6"/>
<path d="M268.46 109.5 L420.5 185.4 L607 292.1 L793.5 535.5 L980 851.1 L1166.5 945.4 L1353 1013.3 L1539.5 1094.3 L1726 1179.2 L1912.5 1260.2 L2099 1354.7" fill="none" stroke="#0000ff" stroke-width="9.5" stroke-linejoin="round" stroke-dasharray="36.2 32.07"/>
<polygon points="420,161.3 439.9,195.2 400.1,195.2" fill="none" stroke="#0000ff" stroke-width="9.6" stroke-miterlimit="10"/>
<polygon points="608,268 627.9,301.9 588.1,301.9" fill="none" stroke="#0000ff" stroke-width="9.6" stroke-miterlimit="10"/>
<polygon points="795,511.4 814.9,545.3 775.1,545.3" fill="none" stroke="#0000ff" stroke-width="9.6" stroke-miterlimit="10"/>
<polygon points="979,827 998.9,860.9 959.1,860.9" fill="none" stroke="#0000ff" stroke-width="9.6" stroke-miterlimit="10"/>
<polygon points="1166.6,921.3 1186.5,955.2 1146.7,955.2" fill="none" stroke="#0000ff" stroke-width="9.6" stroke-miterlimit="10"/>
<polygon points="1354.4,989.2 1374.3,1023.1 1334.5,1023.1" fill="none" stroke="#0000ff" stroke-width="9.6" stroke-miterlimit="10"/>
<polygon points="1538.1,1070.2 1558,1104.1 1518.2,1104.1" fill="none" stroke="#0000ff" stroke-width="9.6" stroke-miterlimit="10"/>
<polygon points="1725.8,1155.1 1745.7,1189 1705.9,1189" fill="none" stroke="#0000ff" stroke-width="9.6" stroke-miterlimit="10"/>
<polygon points="1913.1,1236.1 1933,1270 1893.2,1270" fill="none" stroke="#0000ff" stroke-width="9.6" stroke-miterlimit="10"/>
<polygon points="2101,1330.6 2120.9,1364.5 2081.1,1364.5" fill="none" stroke="#0000ff" stroke-width="9.6" stroke-miterlimit="10"/>
</g>
<path class="c" d="M288 1421H859V1865H288zM292 1425V1861H855V1425z" fill="#262626" fill-rule="evenodd"/>
<rect x="292" y="1425" width="563" height="436" fill="#ffffff"/>
<g class="c">
<path d="M306 1466H435.3" stroke="#ff0000" stroke-width="9.5" fill="none"/>
<polygon points="373,1450.3 377.26,1462.13 389.83,1462.53 379.9,1470.24 383.4,1482.32 373,1475.25 362.6,1482.32 366.1,1470.24 356.17,1462.53 368.74,1462.13" fill="none" stroke="#ff0000" stroke-width="9.6" stroke-miterlimit="10"/>
<path d="M306 1536.8H435.3" stroke="#ff0000" stroke-width="9.5" fill="none" stroke-dasharray="36.2 32.07"/>
<path d="M353.2 1536.5H392.8 M373 1516.7V1556.3 M358.15 1521.65L387.85 1551.35 M358.15 1551.35L387.85 1521.65" fill="none" stroke="#ff0000" stroke-width="9.6"/>
<path d="M306 1607.6H435.3" stroke="#000000" stroke-width="9.5" fill="none"/>
<circle cx="373.05" cy="1609" r="16.2" fill="none" stroke="#000000" stroke-width="9.6"/>
<path d="M306 1678.4H435.3" stroke="#000000" stroke-width="9.5" fill="none" stroke-dasharray="36.2 32.07"/>
<path d="M358.15 1662.65L387.85 1692.35 M358.15 1692.35L387.85 1662.65" fill="none" stroke="#000000" stroke-width="9.6"/>
<path d="M306 1749.2H435.3" stroke="#0000ff" stroke-width="9.5" fill="none"/>
<rect x="359.8" y="1736.7" width="26.4" height="26.4" fill="none" stroke="#0000ff" stroke-width="9.6"/>
<path d="M306 1820H435.3" stroke="#0000ff" stroke-width="9.5" fill="none" stroke-dasharray="36.2 32.07"/>
<polygon points="373,1795.3 392.9,1829.2 353.1,1829.2" fill="none" stroke="#0000ff" stroke-width="9.6" stroke-miterlimit="10"/>
</g>
<text transform="translate(448 1487.4) scale(1 1.035)" font-size="51.3" fill="#000">K = 2 is known</text>
<text transform="translate(448 1558.2) scale(1 1.035)" font-size="51.3" fill="#000">K = 2 is unknown</text>
<text transform="translate(448 1629) scale(1 1.035)" font-size="51.3" fill="#000">K = 3 is known</text>
<text transform="translate(448 1699.8) scale(1 1.035)" font-size="51.3" fill="#000">K = 3 is unknown</text>
<text transform="translate(448 1770.6) scale(1 1.035)" font-size="51.3" fill="#000">K = 4 is known</text>
<text transform="translate(448 1841.4) scale(1 1.035)" font-size="51.3" fill="#000">K = 4 is unknown</text>
<rect x="1589" y="108" width="512" height="469" fill="#ffffff"/>
<path class="c" d="M1843 111h4v462h-4z M1593 460h504v4h-504z M1593 319h504v4h-504z M1593 178h504v4h-504z" fill="#dedede"/>
<path class="c" d="M1843 568h4v5h-4z M1843 111h4v5h-4z M1593 460h5v4h-5z M2092 460h5v4h-5z M1593 319h5v4h-5z M2092 319h5v4h-5z M1593 178h5v4h-5z M2092 178h5v4h-5z M1589 108H2101V577H1589zM1593 111V573H2097V111z" fill="#262626" fill-rule="evenodd"/>
<text transform="translate(1589.5 657.2) scale(1 1.015)" font-size="56.25" fill="#262626" text-anchor="middle">39</text>
<text transform="translate(1843.5 657.2) scale(1 1.015)" font-size="56.25" fill="#262626" text-anchor="middle">39.5</text>
<text transform="translate(2097.5 657.2) scale(1 1.015)" font-size="56.25" fill="#262626" text-anchor="middle">40</text>
<text transform="translate(1566 484.3) scale(1 1.015)" font-size="56.25" fill="#262626" text-anchor="end">5</text>
<text transform="translate(1566 343.3) scale(1 1.015)" font-size="56.25" fill="#262626" text-anchor="end">6</text>
<text transform="translate(1566 202.3) scale(1 1.015)" font-size="56.25" fill="#262626" text-anchor="end">7</text>
<text x="1592.8" y="105.9" font-size="68.7" style="font-family:'Liberation Serif',serif" fill="#262626">×</text>
<text transform="translate(1639.6 96.8) scale(1 1.015)" font-size="56.25" fill="#262626">10<tspan font-size="46.2" dx="-1" dy="-25.6" letter-spacing="1.5">-5</tspan></text>
<g class="c">
<path d="M1591 197.48L2099.5 327.3" stroke="#000000" stroke-width="5" fill="none"/>
<circle cx="2101" cy="328.9" r="16.9" fill="none" stroke="#000000" stroke-width="5.4"/>
<path d="M1591 295.76L2099.5 413" stroke="#ff0000" stroke-width="5" fill="none" stroke-dasharray="41.5 26.77"/>
<path d="M2081.2 414.4H2120.8 M2101 394.6V434.2 M2086.15 399.55L2115.85 429.25 M2086.15 429.25L2115.85 399.55" fill="none" stroke="#ff0000" stroke-width="5.4"/>
<path d="M1591 422.38L2099.5 506.5" stroke="#ff0000" stroke-width="5" fill="none"/>
<polygon points="2101,491.2 2105.06,502.52 2117.07,502.88 2107.56,510.23 2110.93,521.77 2101,515 2091.07,521.77 2094.44,510.23 2084.93,502.88 2096.94,502.52" fill="none" stroke="#ff0000" stroke-width="5.4" stroke-miterlimit="10"/>
</g>
<g class="c">
<ellipse cx="2037.7" cy="1602.5" rx="36.8" ry="65" fill="none" stroke="#000" stroke-width="3.4"/>
<path d="M1869 752L2012.42 1501.42" stroke="#000" stroke-width="3.4" fill="none"/>
<polygon points="2019,1535.8 1991.81,1492.13 2012.42,1501.42 2028.15,1485.18" fill="#000"/>
</g>
<text transform="translate(1169.5 80.9) scale(1 1.035)" font-size="62.6" fill="#000" text-anchor="middle">K = 2, 3, 4</text>
<text transform="translate(1162.5 2087) scale(1 1.035)" font-size="62.6" fill="#262626" text-anchor="middle">SNR (dB)</text>
<text transform="translate(71 1016.4) rotate(-90) scale(1 1.035)" font-size="62.6" fill="#262626" text-anchor="middle">RMSE</text>
</svg></body></html>
